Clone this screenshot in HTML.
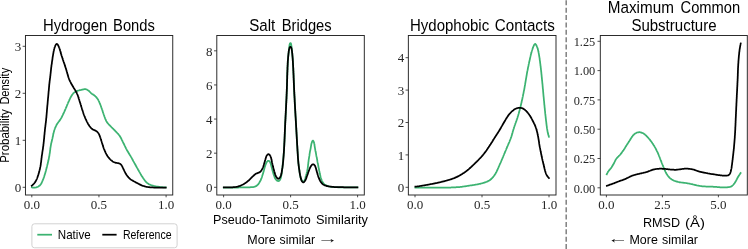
<!DOCTYPE html>
<html><head><meta charset="utf-8"><title>Interaction similarity distributions</title>
<style>
html,body{margin:0;padding:0;background:#fff;}
svg{display:block;}
text{fill:#000;}
.tk{font-family:"Liberation Serif","DejaVu Serif",serif;font-size:13.0px;fill:#262626;}
.ti{font-family:"Liberation Sans","DejaVu Sans",sans-serif;font-size:16.8px;}
.lb{font-family:"Liberation Sans","DejaVu Sans",sans-serif;font-size:13.3px;}
.g{fill:none;stroke:#3cb371;stroke-width:1.75;stroke-linejoin:round;stroke-linecap:square;}
.k{fill:none;stroke:#000000;stroke-width:1.75;stroke-linejoin:round;stroke-linecap:square;}
</style></head>
<body>
<svg width="748" height="249" viewBox="0 0 748 249">
<rect x="0" y="0" width="748" height="249" fill="#ffffff"/>
<line x1="31.80" x2="31.80" y1="195.0" y2="197.3" stroke="#222222" stroke-width="0.8"/>
<text x="31.80" y="208.9" text-anchor="middle" class="tk">0.0</text>
<line x1="98.95" x2="98.95" y1="195.0" y2="197.3" stroke="#222222" stroke-width="0.8"/>
<text x="98.95" y="208.9" text-anchor="middle" class="tk">0.5</text>
<line x1="166.10" x2="166.10" y1="195.0" y2="197.3" stroke="#222222" stroke-width="0.8"/>
<text x="166.10" y="208.9" text-anchor="middle" class="tk">1.0</text>
<line x1="22.65" x2="25.45" y1="187.30" y2="187.30" stroke="#222222" stroke-width="0.8"/>
<text x="21.25" y="192.00" text-anchor="end" class="tk">0</text>
<line x1="22.65" x2="25.45" y1="140.30" y2="140.30" stroke="#222222" stroke-width="0.8"/>
<text x="21.25" y="145.00" text-anchor="end" class="tk">1</text>
<line x1="22.65" x2="25.45" y1="93.30" y2="93.30" stroke="#222222" stroke-width="0.8"/>
<text x="21.25" y="98.00" text-anchor="end" class="tk">2</text>
<line x1="22.65" x2="25.45" y1="46.30" y2="46.30" stroke="#222222" stroke-width="0.8"/>
<text x="21.25" y="51.00" text-anchor="end" class="tk">3</text>
<line x1="223.60" x2="223.60" y1="195.0" y2="197.3" stroke="#222222" stroke-width="0.8"/>
<text x="223.60" y="208.9" text-anchor="middle" class="tk">0.0</text>
<line x1="290.60" x2="290.60" y1="195.0" y2="197.3" stroke="#222222" stroke-width="0.8"/>
<text x="290.60" y="208.9" text-anchor="middle" class="tk">0.5</text>
<line x1="357.60" x2="357.60" y1="195.0" y2="197.3" stroke="#222222" stroke-width="0.8"/>
<text x="357.60" y="208.9" text-anchor="middle" class="tk">1.0</text>
<line x1="214.0" x2="216.8" y1="187.30" y2="187.30" stroke="#222222" stroke-width="0.8"/>
<text x="212.60" y="192.00" text-anchor="end" class="tk">0</text>
<line x1="214.0" x2="216.8" y1="153.18" y2="153.18" stroke="#222222" stroke-width="0.8"/>
<text x="212.60" y="157.88" text-anchor="end" class="tk">2</text>
<line x1="214.0" x2="216.8" y1="119.06" y2="119.06" stroke="#222222" stroke-width="0.8"/>
<text x="212.60" y="123.76" text-anchor="end" class="tk">4</text>
<line x1="214.0" x2="216.8" y1="84.94" y2="84.94" stroke="#222222" stroke-width="0.8"/>
<text x="212.60" y="89.64" text-anchor="end" class="tk">6</text>
<line x1="214.0" x2="216.8" y1="50.82" y2="50.82" stroke="#222222" stroke-width="0.8"/>
<text x="212.60" y="55.52" text-anchor="end" class="tk">8</text>
<line x1="415.00" x2="415.00" y1="195.0" y2="197.3" stroke="#222222" stroke-width="0.8"/>
<text x="415.00" y="208.9" text-anchor="middle" class="tk">0.0</text>
<line x1="482.00" x2="482.00" y1="195.0" y2="197.3" stroke="#222222" stroke-width="0.8"/>
<text x="482.00" y="208.9" text-anchor="middle" class="tk">0.5</text>
<line x1="549.00" x2="549.00" y1="195.0" y2="197.3" stroke="#222222" stroke-width="0.8"/>
<text x="549.00" y="208.9" text-anchor="middle" class="tk">1.0</text>
<line x1="405.55" x2="408.35" y1="187.30" y2="187.30" stroke="#222222" stroke-width="0.8"/>
<text x="404.15" y="192.00" text-anchor="end" class="tk">0</text>
<line x1="405.55" x2="408.35" y1="154.90" y2="154.90" stroke="#222222" stroke-width="0.8"/>
<text x="404.15" y="159.60" text-anchor="end" class="tk">1</text>
<line x1="405.55" x2="408.35" y1="122.50" y2="122.50" stroke="#222222" stroke-width="0.8"/>
<text x="404.15" y="127.20" text-anchor="end" class="tk">2</text>
<line x1="405.55" x2="408.35" y1="90.10" y2="90.10" stroke="#222222" stroke-width="0.8"/>
<text x="404.15" y="94.80" text-anchor="end" class="tk">3</text>
<line x1="405.55" x2="408.35" y1="57.70" y2="57.70" stroke="#222222" stroke-width="0.8"/>
<text x="404.15" y="62.40" text-anchor="end" class="tk">4</text>
<line x1="606.40" x2="606.40" y1="195.0" y2="197.3" stroke="#222222" stroke-width="0.8"/>
<text x="606.40" y="208.9" text-anchor="middle" class="tk">0.0</text>
<line x1="662.40" x2="662.40" y1="195.0" y2="197.3" stroke="#222222" stroke-width="0.8"/>
<text x="662.40" y="208.9" text-anchor="middle" class="tk">2.5</text>
<line x1="718.40" x2="718.40" y1="195.0" y2="197.3" stroke="#222222" stroke-width="0.8"/>
<text x="718.40" y="208.9" text-anchor="middle" class="tk">5.0</text>
<line x1="597.5" x2="600.3" y1="187.80" y2="187.80" stroke="#222222" stroke-width="0.8"/>
<text x="595.30" y="192.50" text-anchor="end" class="tk" textLength="21.6" lengthAdjust="spacingAndGlyphs">0.00</text>
<line x1="597.5" x2="600.3" y1="158.50" y2="158.50" stroke="#222222" stroke-width="0.8"/>
<text x="595.30" y="163.20" text-anchor="end" class="tk" textLength="21.6" lengthAdjust="spacingAndGlyphs">0.25</text>
<line x1="597.5" x2="600.3" y1="129.20" y2="129.20" stroke="#222222" stroke-width="0.8"/>
<text x="595.30" y="133.90" text-anchor="end" class="tk" textLength="21.6" lengthAdjust="spacingAndGlyphs">0.50</text>
<line x1="597.5" x2="600.3" y1="99.90" y2="99.90" stroke="#222222" stroke-width="0.8"/>
<text x="595.30" y="104.60" text-anchor="end" class="tk" textLength="21.6" lengthAdjust="spacingAndGlyphs">0.75</text>
<line x1="597.5" x2="600.3" y1="70.60" y2="70.60" stroke="#222222" stroke-width="0.8"/>
<text x="595.30" y="75.30" text-anchor="end" class="tk" textLength="21.6" lengthAdjust="spacingAndGlyphs">1.00</text>
<line x1="597.5" x2="600.3" y1="41.30" y2="41.30" stroke="#222222" stroke-width="0.8"/>
<text x="595.30" y="46.00" text-anchor="end" class="tk" textLength="21.6" lengthAdjust="spacingAndGlyphs">1.25</text>
<path d="M31.9,187.4 L32.3,187.5 L32.7,187.5 L33.3,187.6 L33.9,187.6 L34.5,187.6 L35.1,187.6 L35.7,187.5 L36.3,187.4 L36.8,187.2 L37.4,187.0 L37.9,186.8 L38.4,186.5 L38.9,186.1 L39.4,185.8 L39.9,185.3 L40.3,184.9 L40.6,184.5 L41.0,184.0 L41.3,183.5 L41.6,183.0 L41.8,182.4 L42.1,181.9 L42.3,181.3 L42.6,180.7 L42.8,180.2 L43.0,179.6 L43.3,179.0 L43.5,178.5 L43.7,177.9 L43.9,177.4 L44.1,176.8 L44.3,176.2 L44.4,175.7 L44.6,175.1 L44.8,174.5 L45.0,173.9 L45.2,173.4 L45.3,172.8 L45.5,172.2 L45.7,171.6 L45.8,171.0 L46.0,170.5 L46.1,169.9 L46.3,169.3 L46.4,168.7 L46.6,168.1 L46.7,167.6 L46.9,167.0 L47.0,166.4 L47.1,165.8 L47.3,165.2 L47.4,164.6 L47.6,164.1 L47.7,163.5 L47.9,162.9 L48.0,162.3 L48.1,161.7 L48.3,161.1 L48.4,160.6 L48.5,160.0 L48.7,159.4 L48.8,158.8 L48.9,158.2 L49.0,157.6 L49.1,157.0 L49.2,156.4 L49.4,155.9 L49.4,155.3 L49.5,154.7 L49.6,154.1 L49.7,153.5 L49.8,152.9 L49.9,152.3 L50.0,151.7 L50.0,151.1 L50.1,150.5 L50.2,149.9 L50.3,149.3 L50.3,148.7 L50.4,148.1 L50.5,147.5 L50.6,146.9 L50.7,146.3 L50.8,145.8 L50.9,145.2 L51.0,144.6 L51.1,144.0 L51.2,143.4 L51.4,142.8 L51.5,142.2 L51.7,141.6 L51.8,141.1 L51.9,140.5 L52.1,139.9 L52.2,139.3 L52.4,138.7 L52.5,138.1 L52.6,137.6 L52.7,137.0 L52.9,136.4 L53.0,135.8 L53.1,135.2 L53.2,134.6 L53.3,134.0 L53.5,133.4 L53.6,132.8 L53.8,132.3 L53.9,131.7 L54.1,131.1 L54.2,130.5 L54.4,130.0 L54.6,129.4 L54.8,128.8 L55.0,128.3 L55.2,127.7 L55.5,127.2 L55.7,126.6 L56.0,126.1 L56.2,125.5 L56.5,125.0 L56.8,124.5 L57.1,124.0 L57.4,123.5 L57.8,123.0 L58.1,122.5 L58.5,122.0 L58.9,121.5 L59.2,121.1 L59.6,120.6 L59.9,120.1 L60.3,119.6 L60.6,119.1 L60.9,118.6 L61.2,118.1 L61.5,117.5 L61.8,117.0 L62.1,116.5 L62.3,115.9 L62.6,115.4 L62.9,114.9 L63.1,114.3 L63.4,113.8 L63.6,113.2 L63.9,112.7 L64.1,112.1 L64.4,111.6 L64.6,111.0 L64.9,110.5 L65.1,109.9 L65.3,109.4 L65.6,108.8 L65.8,108.3 L66.0,107.7 L66.3,107.2 L66.5,106.6 L66.7,106.1 L66.9,105.5 L67.2,105.0 L67.4,104.4 L67.7,103.8 L67.9,103.3 L68.1,102.7 L68.4,102.2 L68.6,101.7 L68.9,101.1 L69.1,100.6 L69.4,100.0 L69.6,99.5 L69.9,98.9 L70.1,98.4 L70.4,97.8 L70.7,97.3 L71.0,96.8 L71.3,96.3 L71.6,95.7 L71.9,95.2 L72.2,94.7 L72.6,94.2 L73.0,93.7 L73.3,93.3 L73.8,92.9 L74.2,92.5 L74.7,92.2 L75.2,91.9 L75.7,91.6 L76.2,91.4 L76.8,91.1 L77.4,90.9 L78.0,90.7 L78.5,90.5 L79.1,90.4 L79.7,90.2 L80.3,90.1 L80.9,90.0 L81.5,89.8 L82.0,89.7 L82.6,89.6 L83.2,89.4 L83.8,89.3 L84.4,89.2 L85.0,89.2 L85.5,89.2 L86.1,89.3 L86.7,89.5 L87.2,89.8 L87.8,90.1 L88.2,90.4 L88.7,90.7 L89.1,91.1 L89.6,91.6 L90.0,92.0 L90.4,92.5 L90.8,92.9 L91.3,93.3 L91.8,93.7 L92.2,94.0 L92.8,94.3 L93.3,94.7 L93.8,95.0 L94.2,95.3 L94.7,95.7 L95.2,96.1 L95.6,96.5 L96.0,96.9 L96.4,97.4 L96.8,97.9 L97.2,98.3 L97.5,98.8 L97.8,99.3 L98.2,99.8 L98.4,100.3 L98.7,100.9 L99.0,101.4 L99.2,102.0 L99.5,102.5 L99.7,103.1 L99.9,103.6 L100.1,104.2 L100.4,104.8 L100.6,105.3 L100.8,105.9 L101.0,106.4 L101.2,107.0 L101.4,107.6 L101.6,108.1 L101.8,108.7 L102.0,109.3 L102.2,109.8 L102.4,110.4 L102.6,111.0 L102.7,111.6 L102.9,112.1 L103.1,112.7 L103.3,113.3 L103.5,113.8 L103.7,114.4 L103.9,115.0 L104.1,115.5 L104.3,116.1 L104.5,116.7 L104.7,117.2 L104.9,117.8 L105.1,118.4 L105.3,118.9 L105.6,119.5 L105.8,120.0 L106.1,120.6 L106.3,121.1 L106.6,121.6 L106.9,122.1 L107.3,122.6 L107.6,123.1 L108.0,123.5 L108.4,124.0 L108.8,124.4 L109.2,124.9 L109.7,125.3 L110.1,125.7 L110.5,126.2 L110.9,126.6 L111.3,127.0 L111.8,127.5 L112.2,127.9 L112.6,128.3 L113.0,128.7 L113.5,129.2 L113.9,129.6 L114.3,130.0 L114.8,130.4 L115.2,130.9 L115.6,131.3 L116.0,131.7 L116.4,132.2 L116.8,132.6 L117.2,133.0 L117.7,133.5 L118.1,133.9 L118.5,134.4 L118.8,134.8 L119.2,135.3 L119.6,135.8 L119.9,136.3 L120.2,136.8 L120.5,137.3 L120.8,137.8 L121.1,138.3 L121.4,138.9 L121.6,139.4 L121.9,140.0 L122.2,140.5 L122.4,141.0 L122.7,141.6 L123.0,142.1 L123.2,142.7 L123.5,143.2 L123.8,143.7 L124.0,144.3 L124.3,144.8 L124.5,145.4 L124.8,145.9 L125.1,146.4 L125.3,147.0 L125.6,147.5 L125.9,148.1 L126.1,148.6 L126.4,149.1 L126.7,149.7 L127.0,150.2 L127.3,150.7 L127.6,151.2 L127.9,151.7 L128.2,152.3 L128.5,152.8 L128.8,153.3 L129.1,153.8 L129.4,154.3 L129.7,154.8 L130.0,155.3 L130.4,155.8 L130.7,156.4 L131.0,156.9 L131.3,157.4 L131.6,157.9 L131.9,158.4 L132.2,159.0 L132.5,159.5 L132.7,160.0 L133.0,160.5 L133.3,161.1 L133.6,161.6 L133.9,162.1 L134.2,162.6 L134.5,163.2 L134.8,163.7 L135.1,164.2 L135.4,164.7 L135.6,165.3 L135.9,165.8 L136.2,166.3 L136.5,166.8 L136.8,167.4 L137.1,167.9 L137.4,168.4 L137.7,168.9 L138.0,169.5 L138.3,170.0 L138.6,170.5 L138.9,171.0 L139.2,171.6 L139.5,172.1 L139.8,172.6 L140.1,173.1 L140.4,173.6 L140.7,174.2 L141.0,174.7 L141.3,175.2 L141.6,175.7 L141.9,176.2 L142.3,176.7 L142.6,177.2 L142.9,177.7 L143.3,178.2 L143.6,178.7 L144.0,179.2 L144.3,179.7 L144.7,180.2 L145.0,180.7 L145.4,181.2 L145.8,181.6 L146.2,182.1 L146.6,182.5 L147.1,182.9 L147.5,183.2 L148.0,183.5 L148.5,183.9 L149.0,184.2 L149.5,184.5 L150.1,184.7 L150.7,185.0 L151.2,185.2 L151.8,185.4 L152.4,185.6 L152.9,185.7 L153.5,185.9 L154.1,186.0 L154.7,186.1 L155.3,186.3 L155.9,186.4 L156.5,186.5 L157.1,186.6 L157.6,186.7 L158.2,186.7 L158.8,186.8 L159.4,186.9 L160.0,187.0 L160.6,187.1 L161.2,187.1 L161.8,187.2 L162.4,187.2 L163.0,187.3 L163.6,187.3 L164.2,187.3 L164.8,187.4 L165.3,187.4 L165.7,187.4" class="g"/>
<path d="M31.8,185.7 L32.1,185.4 L32.5,185.1 L32.9,184.7 L33.3,184.3 L33.7,183.9 L34.1,183.5 L34.5,183.0 L34.9,182.5 L35.2,182.0 L35.5,181.5 L35.8,181.0 L36.1,180.4 L36.4,179.9 L36.6,179.4 L36.9,178.8 L37.1,178.3 L37.3,177.7 L37.5,177.2 L37.7,176.6 L37.9,176.0 L38.1,175.4 L38.3,174.9 L38.5,174.3 L38.6,173.7 L38.8,173.1 L39.0,172.6 L39.1,172.0 L39.3,171.4 L39.4,170.8 L39.6,170.2 L39.7,169.7 L39.9,169.1 L40.0,168.5 L40.1,167.9 L40.2,167.3 L40.4,166.7 L40.5,166.1 L40.6,165.5 L40.7,164.9 L40.8,164.4 L40.8,163.8 L40.9,163.2 L41.0,162.6 L41.1,162.0 L41.2,161.4 L41.2,160.8 L41.3,160.2 L41.4,159.6 L41.4,159.0 L41.5,158.4 L41.6,157.8 L41.7,157.2 L41.7,156.6 L41.8,156.0 L41.9,155.4 L42.0,154.8 L42.1,154.2 L42.2,153.6 L42.3,153.0 L42.3,152.5 L42.4,151.9 L42.5,151.3 L42.6,150.7 L42.7,150.1 L42.8,149.5 L42.9,148.9 L43.0,148.3 L43.0,147.7 L43.1,147.1 L43.2,146.5 L43.3,145.9 L43.4,145.3 L43.4,144.7 L43.5,144.1 L43.6,143.5 L43.6,142.9 L43.7,142.3 L43.8,141.8 L43.8,141.2 L43.9,140.6 L43.9,140.0 L44.0,139.4 L44.1,138.8 L44.1,138.2 L44.2,137.6 L44.2,137.0 L44.3,136.4 L44.3,135.8 L44.4,135.2 L44.5,134.6 L44.5,134.0 L44.6,133.4 L44.6,132.8 L44.7,132.2 L44.8,131.6 L44.8,131.0 L44.9,130.4 L44.9,129.8 L45.0,129.2 L45.1,128.6 L45.1,128.0 L45.2,127.4 L45.3,126.8 L45.4,126.2 L45.4,125.6 L45.5,125.0 L45.6,124.4 L45.6,123.8 L45.7,123.3 L45.8,122.7 L45.9,122.1 L45.9,121.5 L46.0,120.9 L46.1,120.3 L46.1,119.7 L46.2,119.1 L46.2,118.5 L46.3,117.9 L46.4,117.3 L46.4,116.7 L46.5,116.1 L46.5,115.5 L46.6,114.9 L46.6,114.3 L46.7,113.7 L46.7,113.1 L46.8,112.5 L46.8,111.9 L46.9,111.3 L46.9,110.7 L47.0,110.1 L47.0,109.5 L47.1,108.9 L47.1,108.3 L47.2,107.7 L47.2,107.1 L47.3,106.5 L47.3,105.9 L47.4,105.3 L47.5,104.7 L47.5,104.1 L47.6,103.5 L47.6,102.9 L47.7,102.3 L47.7,101.7 L47.8,101.2 L47.8,100.6 L47.9,100.0 L47.9,99.4 L48.0,98.8 L48.0,98.2 L48.1,97.6 L48.2,97.0 L48.2,96.4 L48.3,95.8 L48.3,95.2 L48.4,94.6 L48.4,94.0 L48.5,93.4 L48.5,92.8 L48.6,92.2 L48.6,91.6 L48.7,91.0 L48.8,90.4 L48.8,89.8 L48.9,89.2 L48.9,88.6 L49.0,88.0 L49.0,87.4 L49.1,86.8 L49.1,86.2 L49.2,85.6 L49.2,85.0 L49.3,84.4 L49.4,83.8 L49.4,83.2 L49.5,82.6 L49.6,82.0 L49.6,81.4 L49.7,80.8 L49.8,80.2 L49.9,79.7 L49.9,79.1 L50.0,78.5 L50.1,77.9 L50.2,77.3 L50.2,76.7 L50.3,76.1 L50.4,75.5 L50.4,74.9 L50.5,74.3 L50.6,73.7 L50.6,73.1 L50.7,72.5 L50.8,71.9 L50.8,71.3 L50.9,70.7 L51.0,70.1 L51.0,69.5 L51.1,68.9 L51.1,68.3 L51.2,67.7 L51.3,67.1 L51.4,66.5 L51.4,65.9 L51.5,65.3 L51.6,64.8 L51.7,64.2 L51.8,63.6 L51.9,63.0 L51.9,62.4 L52.0,61.8 L52.1,61.2 L52.2,60.6 L52.3,60.0 L52.4,59.4 L52.5,58.8 L52.5,58.2 L52.6,57.6 L52.7,57.0 L52.8,56.4 L52.9,55.8 L53.0,55.3 L53.1,54.7 L53.2,54.1 L53.3,53.5 L53.4,52.9 L53.5,52.3 L53.6,51.7 L53.7,51.1 L53.9,50.5 L54.0,49.9 L54.1,49.3 L54.3,48.7 L54.4,48.2 L54.6,47.6 L54.8,47.0 L55.1,46.3 L55.3,45.7 L55.6,45.1 L55.9,44.6 L56.3,44.2 L56.6,44.0 L56.9,43.9 L57.2,44.1 L57.6,44.4 L57.9,44.9 L58.2,45.5 L58.5,46.1 L58.8,46.7 L59.0,47.3 L59.3,47.9 L59.5,48.5 L59.7,49.0 L59.8,49.6 L60.0,50.2 L60.2,50.8 L60.4,51.3 L60.5,51.9 L60.7,52.5 L60.8,53.1 L61.0,53.7 L61.2,54.3 L61.3,54.8 L61.5,55.4 L61.7,56.0 L61.9,56.5 L62.1,57.1 L62.3,57.7 L62.5,58.3 L62.6,58.8 L62.8,59.4 L63.0,60.0 L63.2,60.5 L63.4,61.1 L63.6,61.7 L63.8,62.2 L64.0,62.8 L64.2,63.4 L64.4,63.9 L64.6,64.5 L64.8,65.1 L64.9,65.6 L65.1,66.2 L65.3,66.8 L65.5,67.4 L65.7,67.9 L65.9,68.5 L66.1,69.1 L66.2,69.6 L66.4,70.2 L66.6,70.8 L66.7,71.4 L66.9,72.0 L67.1,72.5 L67.2,73.1 L67.4,73.7 L67.6,74.3 L67.7,74.9 L67.9,75.4 L68.1,76.0 L68.2,76.6 L68.4,77.2 L68.6,77.7 L68.8,78.3 L69.0,78.8 L69.2,79.4 L69.4,79.9 L69.7,80.5 L69.9,81.0 L70.2,81.6 L70.5,82.1 L70.8,82.6 L71.0,83.2 L71.3,83.7 L71.6,84.2 L71.9,84.8 L72.2,85.3 L72.5,85.8 L72.8,86.3 L73.1,86.8 L73.4,87.3 L73.7,87.9 L74.0,88.4 L74.4,88.9 L74.7,89.4 L75.0,89.9 L75.3,90.4 L75.6,90.9 L75.9,91.5 L76.2,92.0 L76.5,92.5 L76.8,93.0 L77.0,93.6 L77.2,94.1 L77.5,94.7 L77.7,95.2 L77.9,95.8 L78.1,96.4 L78.3,96.9 L78.5,97.5 L78.6,98.1 L78.8,98.7 L79.0,99.2 L79.2,99.8 L79.4,100.4 L79.5,101.0 L79.7,101.5 L79.9,102.1 L80.1,102.7 L80.3,103.3 L80.4,103.8 L80.6,104.4 L80.8,105.0 L81.0,105.5 L81.1,106.1 L81.3,106.7 L81.5,107.3 L81.7,107.8 L81.9,108.4 L82.0,109.0 L82.2,109.6 L82.4,110.1 L82.6,110.7 L82.8,111.3 L83.0,111.8 L83.2,112.4 L83.3,113.0 L83.5,113.6 L83.7,114.1 L83.9,114.7 L84.1,115.2 L84.3,115.8 L84.6,116.4 L84.8,116.9 L85.0,117.5 L85.2,118.0 L85.5,118.6 L85.7,119.1 L86.0,119.7 L86.2,120.2 L86.5,120.8 L86.7,121.3 L87.0,121.9 L87.3,122.4 L87.6,122.9 L87.8,123.5 L88.1,124.0 L88.5,124.5 L88.8,125.0 L89.1,125.5 L89.4,126.0 L89.8,126.5 L90.2,127.0 L90.6,127.5 L91.0,127.9 L91.4,128.4 L91.8,128.8 L92.3,129.1 L92.8,129.4 L93.3,129.7 L93.8,129.9 L94.4,130.1 L95.0,130.4 L95.5,130.6 L96.0,130.9 L96.5,131.2 L97.0,131.6 L97.4,132.0 L97.8,132.5 L98.2,132.9 L98.5,133.4 L98.8,133.9 L99.1,134.4 L99.3,135.0 L99.6,135.5 L99.8,136.1 L100.0,136.7 L100.2,137.3 L100.4,137.8 L100.6,138.4 L100.8,139.0 L101.0,139.5 L101.1,140.1 L101.3,140.7 L101.5,141.3 L101.7,141.8 L101.9,142.4 L102.0,143.0 L102.2,143.5 L102.4,144.1 L102.6,144.7 L102.8,145.3 L102.9,145.8 L103.1,146.4 L103.3,147.0 L103.5,147.6 L103.7,148.1 L103.9,148.7 L104.1,149.2 L104.3,149.8 L104.6,150.3 L104.8,150.9 L105.1,151.5 L105.3,152.0 L105.6,152.6 L105.8,153.1 L106.1,153.6 L106.4,154.2 L106.7,154.7 L107.0,155.2 L107.3,155.7 L107.6,156.2 L108.0,156.7 L108.3,157.2 L108.7,157.7 L109.1,158.1 L109.5,158.6 L109.9,159.0 L110.3,159.5 L110.7,159.9 L111.2,160.3 L111.7,160.6 L112.1,161.0 L112.6,161.4 L113.1,161.7 L113.7,162.0 L114.2,162.3 L114.7,162.5 L115.3,162.6 L115.9,162.8 L116.5,162.9 L117.1,163.0 L117.7,163.1 L118.3,163.2 L118.8,163.3 L119.4,163.5 L119.9,163.8 L120.4,164.1 L120.9,164.5 L121.3,164.9 L121.6,165.4 L121.9,165.9 L122.2,166.4 L122.5,167.0 L122.8,167.5 L123.0,168.1 L123.3,168.6 L123.5,169.2 L123.8,169.7 L124.1,170.3 L124.3,170.8 L124.6,171.4 L124.8,171.9 L125.1,172.4 L125.4,173.0 L125.7,173.5 L126.0,174.0 L126.3,174.5 L126.6,175.0 L127.0,175.5 L127.3,176.0 L127.7,176.4 L128.1,176.9 L128.5,177.4 L128.9,177.8 L129.3,178.2 L129.7,178.6 L130.2,179.0 L130.7,179.4 L131.1,179.7 L131.6,180.0 L132.1,180.3 L132.7,180.6 L133.2,180.9 L133.7,181.2 L134.3,181.5 L134.8,181.8 L135.3,182.1 L135.9,182.4 L136.4,182.7 L136.9,183.0 L137.5,183.2 L138.0,183.5 L138.5,183.8 L139.1,184.1 L139.6,184.4 L140.1,184.6 L140.7,184.9 L141.2,185.1 L141.8,185.4 L142.3,185.6 L142.9,185.8 L143.5,186.0 L144.0,186.1 L144.6,186.3 L145.2,186.5 L145.8,186.7 L146.4,186.8 L147.0,186.9 L147.5,187.0 L148.1,187.1 L148.7,187.2 L149.3,187.2 L149.9,187.3 L150.5,187.3 L151.1,187.4 L151.7,187.4 L152.3,187.4 L152.9,187.4 L153.5,187.5 L154.1,187.5 L154.7,187.5 L155.3,187.5 L155.9,187.5 L156.5,187.5 L157.1,187.5 L157.7,187.5 L158.3,187.5 L158.9,187.5 L159.5,187.5 L160.1,187.5 L160.7,187.5 L161.3,187.5 L161.9,187.5 L162.5,187.5 L163.1,187.5 L163.7,187.5 L164.3,187.5 L164.9,187.5 L165.3,187.5 L165.7,187.5" class="k"/>
<path d="M223.8,187.5 L224.2,187.5 L224.8,187.5 L225.4,187.5 L226.0,187.5 L226.6,187.5 L227.2,187.5 L227.8,187.5 L228.4,187.5 L229.0,187.5 L229.6,187.5 L230.2,187.5 L230.8,187.5 L231.4,187.5 L232.0,187.5 L232.6,187.5 L233.2,187.5 L233.8,187.5 L234.4,187.5 L235.0,187.5 L235.6,187.5 L236.2,187.5 L236.8,187.5 L237.4,187.5 L238.0,187.5 L238.6,187.5 L239.2,187.4 L239.8,187.4 L240.4,187.4 L241.0,187.4 L241.6,187.4 L242.2,187.4 L242.8,187.4 L243.4,187.4 L244.0,187.4 L244.6,187.4 L245.2,187.4 L245.8,187.4 L246.4,187.4 L247.0,187.4 L247.6,187.3 L248.2,187.3 L248.8,187.3 L249.4,187.3 L250.0,187.3 L250.7,187.2 L251.2,187.2 L251.8,187.1 L252.4,187.1 L253.0,187.0 L253.6,187.0 L254.2,186.8 L254.8,186.7 L255.3,186.4 L255.9,186.2 L256.4,185.9 L256.9,185.6 L257.3,185.2 L257.7,184.8 L258.1,184.4 L258.5,183.9 L258.9,183.4 L259.2,182.9 L259.5,182.3 L259.8,181.8 L260.1,181.2 L260.4,180.7 L260.7,180.2 L260.9,179.6 L261.1,179.1 L261.4,178.5 L261.6,178.0 L261.8,177.4 L262.0,176.8 L262.2,176.2 L262.3,175.7 L262.5,175.1 L262.7,174.5 L262.9,173.9 L263.1,173.4 L263.2,172.8 L263.4,172.2 L263.6,171.6 L263.7,171.1 L263.9,170.5 L264.0,169.9 L264.2,169.3 L264.3,168.7 L264.5,168.1 L264.6,167.6 L264.8,167.0 L265.0,166.4 L265.2,165.8 L265.4,165.3 L265.6,164.7 L265.8,164.1 L266.0,163.6 L266.3,163.0 L266.6,162.4 L266.9,161.9 L267.2,161.5 L267.6,161.1 L268.1,160.8 L268.6,160.8 L269.1,161.0 L269.6,161.4 L269.9,161.9 L270.2,162.4 L270.4,162.9 L270.6,163.5 L270.8,164.0 L271.0,164.6 L271.1,165.2 L271.3,165.9 L271.5,166.5 L271.6,167.1 L271.8,167.6 L271.9,168.2 L272.1,168.8 L272.2,169.4 L272.4,170.0 L272.5,170.6 L272.7,171.1 L272.9,171.7 L273.0,172.3 L273.2,172.9 L273.3,173.4 L273.5,174.0 L273.7,174.6 L273.9,175.2 L274.1,175.8 L274.3,176.3 L274.5,176.9 L274.7,177.5 L274.9,178.0 L275.2,178.5 L275.5,179.0 L275.9,179.5 L276.3,180.0 L276.7,180.4 L277.2,180.7 L277.8,180.9 L278.3,181.1 L278.8,181.0 L279.3,180.7 L279.7,180.2 L280.1,179.7 L280.3,179.2 L280.5,178.7 L280.7,178.1 L280.9,177.6 L281.0,177.0 L281.1,176.4 L281.3,175.8 L281.4,175.2 L281.5,174.6 L281.6,174.0 L281.7,173.3 L281.8,172.7 L281.8,172.1 L281.9,171.5 L282.0,170.9 L282.1,170.3 L282.2,169.7 L282.2,169.1 L282.3,168.5 L282.4,167.9 L282.4,167.3 L282.5,166.7 L282.6,166.1 L282.6,165.6 L282.7,165.0 L282.7,164.4 L282.8,163.8 L282.8,163.2 L282.9,162.6 L283.0,162.0 L283.0,161.4 L283.1,160.8 L283.1,160.2 L283.2,159.6 L283.2,159.0 L283.3,158.4 L283.3,157.8 L283.4,157.2 L283.4,156.6 L283.5,156.0 L283.5,155.4 L283.6,154.8 L283.7,154.2 L283.7,153.6 L283.8,153.0 L283.8,152.4 L283.9,151.8 L283.9,151.2 L284.0,150.6 L284.0,150.0 L284.0,149.4 L284.1,148.8 L284.1,148.2 L284.1,147.6 L284.2,147.0 L284.2,146.4 L284.2,145.8 L284.3,145.2 L284.3,144.6 L284.3,144.0 L284.4,143.4 L284.4,142.8 L284.4,142.2 L284.5,141.6 L284.5,141.0 L284.5,140.4 L284.5,139.8 L284.6,139.2 L284.6,138.6 L284.6,138.0 L284.6,137.4 L284.7,136.8 L284.7,136.2 L284.7,135.6 L284.7,135.0 L284.8,134.4 L284.8,133.8 L284.8,133.2 L284.8,132.6 L284.9,132.0 L284.9,131.4 L284.9,130.8 L284.9,130.2 L285.0,129.6 L285.0,129.0 L285.0,128.4 L285.0,127.8 L285.1,127.2 L285.1,126.6 L285.1,126.0 L285.1,125.4 L285.2,124.8 L285.2,124.2 L285.2,123.6 L285.2,123.0 L285.3,122.4 L285.3,121.8 L285.3,121.2 L285.4,120.6 L285.4,120.0 L285.4,119.4 L285.5,118.8 L285.5,118.2 L285.5,117.6 L285.5,117.0 L285.6,116.4 L285.6,115.8 L285.6,115.2 L285.7,114.6 L285.7,114.0 L285.7,113.4 L285.8,112.8 L285.8,112.2 L285.8,111.6 L285.8,111.0 L285.9,110.4 L285.9,109.8 L285.9,109.2 L286.0,108.6 L286.0,108.0 L286.0,107.5 L286.1,106.9 L286.1,106.3 L286.1,105.7 L286.1,105.1 L286.2,104.5 L286.2,103.9 L286.2,103.3 L286.3,102.7 L286.3,102.1 L286.3,101.5 L286.4,100.9 L286.4,100.3 L286.4,99.7 L286.4,99.1 L286.5,98.5 L286.5,97.9 L286.5,97.3 L286.5,96.7 L286.6,96.1 L286.6,95.5 L286.6,94.9 L286.6,94.3 L286.7,93.7 L286.7,93.1 L286.7,92.5 L286.7,91.9 L286.8,91.3 L286.8,90.7 L286.8,90.1 L286.8,89.5 L286.9,88.9 L286.9,88.3 L286.9,87.7 L286.9,87.1 L286.9,86.5 L287.0,85.9 L287.0,85.3 L287.0,84.7 L287.0,84.1 L287.0,83.5 L287.0,82.9 L287.1,82.3 L287.1,81.7 L287.1,81.1 L287.1,80.5 L287.1,79.9 L287.1,79.3 L287.2,78.7 L287.2,78.1 L287.2,77.5 L287.2,76.9 L287.2,76.3 L287.2,75.7 L287.3,75.1 L287.3,74.5 L287.3,73.9 L287.3,73.3 L287.3,72.7 L287.4,72.1 L287.4,71.5 L287.4,70.9 L287.4,70.3 L287.5,69.7 L287.5,69.1 L287.5,68.5 L287.5,67.9 L287.5,67.3 L287.6,66.7 L287.6,66.1 L287.6,65.5 L287.7,64.9 L287.7,64.3 L287.7,63.7 L287.7,63.1 L287.8,62.5 L287.8,61.9 L287.8,61.3 L287.9,60.7 L287.9,60.1 L288.0,59.5 L288.0,58.9 L288.1,58.3 L288.1,57.7 L288.2,57.1 L288.2,56.5 L288.3,55.9 L288.4,55.3 L288.4,54.7 L288.5,54.1 L288.5,53.5 L288.6,52.9 L288.7,52.3 L288.7,51.7 L288.8,51.1 L288.9,50.5 L288.9,49.9 L289.0,49.3 L289.1,48.7 L289.1,48.1 L289.2,47.6 L289.3,47.0 L289.3,46.4 L289.4,45.8 L289.5,45.2 L289.6,44.6 L289.8,43.9 L290.0,43.4 L290.3,43.0 L290.6,43.0 L290.8,43.4 L291.1,44.0 L291.2,44.6 L291.3,45.2 L291.4,45.8 L291.5,46.4 L291.6,47.0 L291.6,47.6 L291.7,48.2 L291.8,48.8 L291.8,49.4 L291.9,50.0 L292.0,50.6 L292.0,51.2 L292.1,51.8 L292.1,52.4 L292.2,53.0 L292.3,53.6 L292.3,54.2 L292.4,54.8 L292.4,55.4 L292.5,56.0 L292.5,56.6 L292.6,57.2 L292.6,57.8 L292.7,58.4 L292.7,59.0 L292.7,59.6 L292.8,60.2 L292.8,60.8 L292.9,61.4 L292.9,62.0 L292.9,62.6 L293.0,63.2 L293.0,63.8 L293.0,64.4 L293.1,65.0 L293.1,65.6 L293.1,66.2 L293.2,66.8 L293.2,67.4 L293.2,68.0 L293.3,68.6 L293.3,69.2 L293.3,69.8 L293.3,70.4 L293.4,71.0 L293.4,71.6 L293.4,72.2 L293.4,72.8 L293.5,73.4 L293.5,74.0 L293.5,74.6 L293.5,75.2 L293.6,75.8 L293.6,76.4 L293.6,77.0 L293.6,77.6 L293.7,78.2 L293.7,78.8 L293.7,79.4 L293.7,80.0 L293.8,80.6 L293.8,81.2 L293.8,81.8 L293.8,82.4 L293.9,83.0 L293.9,83.6 L293.9,84.2 L293.9,84.8 L294.0,85.4 L294.0,86.0 L294.0,86.6 L294.0,87.2 L294.1,87.8 L294.1,88.4 L294.1,88.9 L294.1,89.5 L294.2,90.1 L294.2,90.7 L294.2,91.3 L294.2,91.9 L294.3,92.5 L294.3,93.1 L294.3,93.7 L294.4,94.3 L294.4,94.9 L294.4,95.5 L294.5,96.1 L294.5,96.7 L294.5,97.3 L294.6,97.9 L294.6,98.5 L294.6,99.1 L294.6,99.7 L294.7,100.3 L294.7,100.9 L294.7,101.5 L294.8,102.1 L294.8,102.7 L294.8,103.3 L294.9,103.9 L294.9,104.5 L294.9,105.1 L295.0,105.7 L295.0,106.3 L295.0,106.9 L295.1,107.5 L295.1,108.1 L295.1,108.7 L295.2,109.3 L295.2,109.9 L295.2,110.5 L295.3,111.1 L295.3,111.7 L295.3,112.3 L295.4,112.9 L295.4,113.5 L295.4,114.1 L295.5,114.7 L295.5,115.3 L295.5,115.9 L295.6,116.5 L295.6,117.1 L295.6,117.7 L295.7,118.3 L295.7,118.9 L295.7,119.5 L295.8,120.1 L295.8,120.7 L295.8,121.3 L295.9,121.9 L295.9,122.5 L295.9,123.1 L296.0,123.7 L296.0,124.3 L296.1,124.9 L296.1,125.5 L296.1,126.1 L296.2,126.7 L296.2,127.3 L296.2,127.9 L296.3,128.5 L296.3,129.1 L296.3,129.7 L296.4,130.3 L296.4,130.9 L296.4,131.5 L296.5,132.1 L296.5,132.7 L296.5,133.3 L296.6,133.9 L296.6,134.5 L296.6,135.1 L296.7,135.7 L296.7,136.3 L296.7,136.9 L296.8,137.5 L296.8,138.1 L296.8,138.7 L296.9,139.3 L296.9,139.9 L296.9,140.5 L297.0,141.1 L297.0,141.7 L297.0,142.3 L297.1,142.9 L297.1,143.5 L297.1,144.1 L297.2,144.7 L297.2,145.3 L297.2,145.9 L297.3,146.5 L297.3,147.1 L297.4,147.7 L297.4,148.3 L297.4,148.9 L297.5,149.5 L297.5,150.1 L297.5,150.7 L297.6,151.3 L297.6,151.9 L297.6,152.5 L297.7,153.1 L297.7,153.7 L297.8,154.2 L297.8,154.8 L297.8,155.4 L297.9,156.0 L297.9,156.6 L297.9,157.2 L298.0,157.8 L298.0,158.4 L298.1,159.0 L298.1,159.6 L298.2,160.2 L298.2,160.8 L298.3,161.4 L298.3,162.0 L298.4,162.6 L298.4,163.2 L298.5,163.8 L298.6,164.4 L298.6,165.0 L298.7,165.6 L298.8,166.2 L298.8,166.8 L298.9,167.4 L299.0,168.0 L299.1,168.6 L299.2,169.2 L299.3,169.8 L299.4,170.4 L299.4,171.0 L299.5,171.6 L299.6,172.2 L299.7,172.7 L299.8,173.3 L299.9,173.9 L300.0,174.5 L300.1,175.1 L300.2,175.7 L300.3,176.3 L300.5,176.9 L300.6,177.5 L300.8,178.0 L301.0,178.6 L301.2,179.2 L301.4,179.8 L301.7,180.3 L302.0,180.8 L302.5,181.2 L302.9,181.5 L303.4,181.6 L303.8,181.3 L304.2,180.9 L304.5,180.4 L304.8,179.8 L305.0,179.2 L305.2,178.7 L305.3,178.1 L305.5,177.5 L305.6,176.9 L305.8,176.3 L306.0,175.7 L306.1,175.2 L306.3,174.6 L306.5,174.0 L306.6,173.4 L306.8,172.8 L306.9,172.3 L307.1,171.7 L307.2,171.1 L307.3,170.5 L307.4,169.9 L307.5,169.3 L307.6,168.7 L307.7,168.2 L307.8,167.6 L307.9,167.0 L307.9,166.4 L308.0,165.8 L308.1,165.2 L308.1,164.6 L308.2,164.0 L308.3,163.4 L308.3,162.8 L308.4,162.2 L308.5,161.6 L308.6,161.0 L308.6,160.4 L308.7,159.8 L308.8,159.2 L308.9,158.6 L309.0,158.0 L309.1,157.4 L309.2,156.8 L309.3,156.2 L309.4,155.7 L309.5,155.1 L309.5,154.5 L309.6,153.9 L309.7,153.3 L309.8,152.7 L309.9,152.1 L310.0,151.5 L310.1,150.9 L310.3,150.3 L310.4,149.7 L310.5,149.1 L310.6,148.6 L310.7,148.0 L310.8,147.4 L310.9,146.8 L311.0,146.2 L311.1,145.6 L311.2,145.0 L311.3,144.4 L311.4,143.8 L311.6,143.2 L311.8,142.6 L312.0,142.0 L312.2,141.4 L312.5,140.9 L312.8,140.6 L313.1,140.7 L313.4,141.1 L313.7,141.7 L313.9,142.3 L314.1,142.9 L314.2,143.5 L314.4,144.1 L314.5,144.7 L314.5,145.3 L314.6,145.9 L314.7,146.5 L314.8,147.1 L314.9,147.7 L315.0,148.3 L315.1,148.9 L315.2,149.5 L315.3,150.1 L315.4,150.7 L315.5,151.2 L315.6,151.8 L315.8,152.4 L315.9,153.0 L316.0,153.6 L316.1,154.2 L316.2,154.8 L316.3,155.4 L316.4,156.0 L316.5,156.5 L316.7,157.1 L316.8,157.7 L316.9,158.3 L317.0,158.9 L317.1,159.5 L317.2,160.1 L317.3,160.7 L317.4,161.3 L317.5,161.9 L317.6,162.4 L317.7,163.0 L317.9,163.6 L318.0,164.2 L318.1,164.8 L318.2,165.4 L318.3,166.0 L318.4,166.6 L318.5,167.2 L318.6,167.8 L318.8,168.3 L318.9,168.9 L319.0,169.5 L319.1,170.1 L319.2,170.7 L319.4,171.3 L319.5,171.9 L319.6,172.5 L319.7,173.1 L319.8,173.6 L320.0,174.2 L320.1,174.8 L320.2,175.4 L320.4,176.0 L320.5,176.6 L320.6,177.2 L320.8,177.7 L321.0,178.3 L321.2,178.9 L321.4,179.4 L321.6,180.0 L321.8,180.6 L322.1,181.2 L322.4,181.7 L322.7,182.2 L323.0,182.7 L323.3,183.2 L323.7,183.6 L324.1,184.0 L324.5,184.4 L325.0,184.8 L325.6,185.1 L326.1,185.4 L326.6,185.7 L327.2,185.9 L327.8,186.1 L328.3,186.2 L328.9,186.4 L329.5,186.5 L330.1,186.7 L330.7,186.8 L331.3,186.8 L331.9,186.9 L332.5,186.9 L333.1,187.0 L333.7,187.0 L334.3,187.1 L334.9,187.1 L335.5,187.1 L336.1,187.2 L336.7,187.2 L337.3,187.2 L337.9,187.3 L338.5,187.3 L339.1,187.3 L339.7,187.3 L340.3,187.3 L340.9,187.3 L341.5,187.3 L342.1,187.3 L342.7,187.3 L343.3,187.3 L343.9,187.3 L344.5,187.3 L345.1,187.3 L345.7,187.4 L346.3,187.4 L346.9,187.4 L347.5,187.4 L348.1,187.4 L348.7,187.4 L349.3,187.4 L349.9,187.4 L350.5,187.4 L351.1,187.4 L351.7,187.4 L352.3,187.4 L352.9,187.4 L353.5,187.4 L354.1,187.4 L354.7,187.4 L355.3,187.4 L355.9,187.4 L356.5,187.4 L357.0,187.4 L357.4,187.4" class="g"/>
<path d="M223.8,187.4 L224.3,187.4 L224.8,187.4 L225.4,187.4 L226.0,187.4 L226.6,187.4 L227.2,187.4 L227.8,187.4 L228.4,187.4 L229.0,187.4 L229.6,187.3 L230.2,187.3 L230.8,187.3 L231.4,187.3 L232.0,187.3 L232.6,187.3 L233.2,187.2 L233.8,187.2 L234.4,187.1 L235.0,187.1 L235.6,187.0 L236.2,186.9 L236.8,186.8 L237.4,186.7 L237.9,186.6 L238.5,186.4 L239.1,186.2 L239.7,186.0 L240.2,185.8 L240.8,185.6 L241.3,185.3 L241.9,185.0 L242.4,184.8 L243.0,184.5 L243.5,184.2 L244.0,183.9 L244.5,183.6 L245.0,183.3 L245.5,183.0 L246.0,182.6 L246.5,182.3 L247.0,181.9 L247.5,181.5 L247.9,181.1 L248.4,180.8 L248.8,180.4 L249.3,180.0 L249.7,179.5 L250.1,179.1 L250.5,178.7 L250.9,178.2 L251.3,177.8 L251.8,177.3 L252.2,176.9 L252.6,176.5 L253.1,176.1 L253.5,175.7 L254.0,175.3 L254.4,174.9 L254.9,174.5 L255.4,174.1 L255.9,173.8 L256.4,173.5 L256.9,173.3 L257.5,173.1 L258.1,172.9 L258.7,172.7 L259.2,172.4 L259.7,172.2 L260.2,171.8 L260.6,171.5 L261.0,171.0 L261.3,170.5 L261.7,170.0 L262.0,169.4 L262.3,168.9 L262.5,168.4 L262.8,167.8 L263.0,167.3 L263.2,166.7 L263.4,166.2 L263.6,165.6 L263.8,165.0 L263.9,164.4 L264.1,163.8 L264.3,163.3 L264.4,162.7 L264.6,162.1 L264.8,161.5 L265.0,160.9 L265.1,160.4 L265.3,159.8 L265.5,159.2 L265.6,158.6 L265.8,158.0 L266.0,157.4 L266.2,156.8 L266.4,156.3 L266.6,155.8 L267.0,155.3 L267.4,154.8 L267.8,154.4 L268.3,154.2 L268.7,154.2 L269.2,154.5 L269.7,154.9 L270.0,155.5 L270.4,156.0 L270.6,156.5 L270.8,157.1 L271.0,157.6 L271.2,158.2 L271.3,158.8 L271.4,159.4 L271.6,160.0 L271.7,160.6 L271.8,161.2 L271.9,161.8 L272.0,162.4 L272.1,163.0 L272.3,163.6 L272.4,164.2 L272.6,164.8 L272.7,165.3 L272.8,165.9 L273.0,166.5 L273.1,167.1 L273.3,167.7 L273.4,168.3 L273.6,168.8 L273.7,169.4 L273.9,170.0 L274.1,170.6 L274.2,171.2 L274.4,171.7 L274.5,172.3 L274.7,172.9 L274.9,173.5 L275.1,174.1 L275.2,174.7 L275.4,175.3 L275.7,175.8 L275.9,176.3 L276.2,176.8 L276.6,177.4 L277.0,177.9 L277.4,178.3 L277.9,178.7 L278.3,178.8 L278.8,178.6 L279.2,178.3 L279.7,177.8 L280.1,177.3 L280.4,176.7 L280.6,176.2 L280.8,175.7 L281.0,175.1 L281.2,174.6 L281.3,174.0 L281.5,173.4 L281.6,172.8 L281.7,172.2 L281.8,171.6 L281.9,171.0 L282.0,170.3 L282.1,169.7 L282.2,169.1 L282.3,168.5 L282.4,167.9 L282.5,167.4 L282.6,166.8 L282.6,166.2 L282.7,165.6 L282.8,165.0 L282.9,164.4 L282.9,163.8 L283.0,163.2 L283.0,162.6 L283.1,162.0 L283.2,161.4 L283.2,160.8 L283.3,160.2 L283.3,159.6 L283.4,159.0 L283.4,158.4 L283.5,157.8 L283.5,157.2 L283.6,156.6 L283.6,156.0 L283.7,155.4 L283.7,154.8 L283.7,154.2 L283.8,153.6 L283.8,153.0 L283.9,152.4 L283.9,151.8 L283.9,151.2 L284.0,150.6 L284.0,150.0 L284.0,149.4 L284.1,148.8 L284.1,148.2 L284.1,147.6 L284.2,147.0 L284.2,146.4 L284.2,145.8 L284.3,145.2 L284.3,144.6 L284.3,144.0 L284.3,143.4 L284.4,142.8 L284.4,142.2 L284.4,141.6 L284.5,141.0 L284.5,140.4 L284.5,139.8 L284.5,139.2 L284.6,138.6 L284.6,138.0 L284.6,137.4 L284.6,136.8 L284.7,136.2 L284.7,135.6 L284.7,135.0 L284.7,134.4 L284.8,133.8 L284.8,133.2 L284.8,132.6 L284.8,132.0 L284.9,131.4 L284.9,130.8 L284.9,130.2 L284.9,129.6 L285.0,129.0 L285.0,128.4 L285.0,127.8 L285.1,127.2 L285.1,126.6 L285.1,126.0 L285.1,125.4 L285.2,124.8 L285.2,124.2 L285.2,123.6 L285.2,123.0 L285.3,122.4 L285.3,121.8 L285.3,121.2 L285.4,120.6 L285.4,120.0 L285.4,119.4 L285.5,118.8 L285.5,118.2 L285.5,117.6 L285.5,117.1 L285.6,116.5 L285.6,115.9 L285.6,115.3 L285.7,114.7 L285.7,114.1 L285.7,113.5 L285.8,112.9 L285.8,112.3 L285.8,111.7 L285.8,111.1 L285.9,110.5 L285.9,109.9 L285.9,109.3 L286.0,108.7 L286.0,108.1 L286.0,107.5 L286.1,106.9 L286.1,106.3 L286.1,105.7 L286.1,105.1 L286.2,104.5 L286.2,103.9 L286.2,103.3 L286.3,102.7 L286.3,102.1 L286.3,101.5 L286.3,100.9 L286.4,100.3 L286.4,99.7 L286.4,99.1 L286.5,98.5 L286.5,97.9 L286.5,97.3 L286.5,96.7 L286.6,96.1 L286.6,95.5 L286.6,94.9 L286.6,94.3 L286.7,93.7 L286.7,93.1 L286.7,92.5 L286.7,91.9 L286.8,91.3 L286.8,90.7 L286.8,90.1 L286.8,89.5 L286.9,88.9 L286.9,88.3 L286.9,87.7 L286.9,87.1 L286.9,86.5 L287.0,85.9 L287.0,85.3 L287.0,84.7 L287.0,84.1 L287.0,83.5 L287.0,82.9 L287.1,82.3 L287.1,81.7 L287.1,81.1 L287.1,80.5 L287.1,79.9 L287.1,79.3 L287.2,78.7 L287.2,78.1 L287.2,77.5 L287.2,76.9 L287.2,76.3 L287.2,75.7 L287.3,75.1 L287.3,74.5 L287.3,73.9 L287.3,73.3 L287.3,72.7 L287.4,72.1 L287.4,71.5 L287.4,70.9 L287.4,70.3 L287.5,69.7 L287.5,69.1 L287.5,68.5 L287.5,67.9 L287.5,67.3 L287.6,66.7 L287.6,66.1 L287.6,65.5 L287.7,64.9 L287.7,64.3 L287.7,63.7 L287.7,63.1 L287.8,62.5 L287.8,61.9 L287.8,61.3 L287.9,60.7 L287.9,60.1 L288.0,59.5 L288.0,58.9 L288.1,58.3 L288.1,57.7 L288.2,57.1 L288.2,56.5 L288.3,55.9 L288.3,55.3 L288.4,54.7 L288.5,54.1 L288.5,53.5 L288.6,52.9 L288.7,52.3 L288.7,51.7 L288.8,51.1 L288.9,50.5 L289.0,49.9 L289.1,49.3 L289.2,48.7 L289.4,48.2 L289.6,47.6 L289.9,47.1 L290.3,46.8 L290.6,46.8 L291.0,47.2 L291.3,47.8 L291.5,48.4 L291.6,48.9 L291.7,49.5 L291.8,50.1 L291.9,50.7 L292.0,51.3 L292.1,51.9 L292.1,52.5 L292.2,53.1 L292.3,53.7 L292.3,54.3 L292.4,54.9 L292.4,55.5 L292.5,56.1 L292.5,56.7 L292.6,57.3 L292.6,57.9 L292.7,58.5 L292.7,59.1 L292.8,59.7 L292.8,60.3 L292.8,60.9 L292.9,61.5 L292.9,62.1 L292.9,62.7 L293.0,63.3 L293.0,63.9 L293.0,64.5 L293.1,65.1 L293.1,65.7 L293.1,66.3 L293.2,66.9 L293.2,67.5 L293.2,68.1 L293.3,68.7 L293.3,69.3 L293.3,69.9 L293.3,70.5 L293.4,71.1 L293.4,71.7 L293.4,72.3 L293.4,72.9 L293.5,73.5 L293.5,74.1 L293.5,74.7 L293.6,75.3 L293.6,75.9 L293.6,76.5 L293.6,77.1 L293.6,77.7 L293.7,78.3 L293.7,78.9 L293.7,79.5 L293.7,80.1 L293.8,80.7 L293.8,81.3 L293.8,81.9 L293.8,82.5 L293.9,83.1 L293.9,83.7 L293.9,84.3 L293.9,84.9 L294.0,85.5 L294.0,86.1 L294.0,86.7 L294.0,87.3 L294.1,87.9 L294.1,88.5 L294.1,89.1 L294.1,89.7 L294.2,90.3 L294.2,90.9 L294.2,91.5 L294.3,92.1 L294.3,92.7 L294.3,93.3 L294.3,93.9 L294.4,94.5 L294.4,95.1 L294.4,95.7 L294.5,96.3 L294.5,96.9 L294.5,97.5 L294.6,98.1 L294.6,98.7 L294.6,99.3 L294.7,99.9 L294.7,100.5 L294.7,101.1 L294.7,101.7 L294.8,102.3 L294.8,102.9 L294.8,103.5 L294.9,104.1 L294.9,104.7 L294.9,105.3 L295.0,105.9 L295.0,106.5 L295.0,107.1 L295.1,107.7 L295.1,108.3 L295.1,108.9 L295.2,109.5 L295.2,110.1 L295.2,110.6 L295.3,111.2 L295.3,111.8 L295.3,112.4 L295.4,113.0 L295.4,113.6 L295.4,114.2 L295.5,114.8 L295.5,115.4 L295.5,116.0 L295.6,116.6 L295.6,117.2 L295.7,117.8 L295.7,118.4 L295.7,119.0 L295.8,119.6 L295.8,120.2 L295.8,120.8 L295.9,121.4 L295.9,122.0 L295.9,122.6 L296.0,123.2 L296.0,123.8 L296.0,124.4 L296.1,125.0 L296.1,125.6 L296.1,126.2 L296.2,126.8 L296.2,127.4 L296.2,128.0 L296.3,128.6 L296.3,129.2 L296.3,129.8 L296.4,130.4 L296.4,131.0 L296.4,131.6 L296.5,132.2 L296.5,132.8 L296.5,133.4 L296.6,134.0 L296.6,134.6 L296.6,135.2 L296.7,135.8 L296.7,136.4 L296.7,137.0 L296.8,137.6 L296.8,138.2 L296.8,138.8 L296.9,139.4 L296.9,140.0 L296.9,140.6 L297.0,141.2 L297.0,141.8 L297.0,142.4 L297.1,143.0 L297.1,143.6 L297.1,144.2 L297.2,144.8 L297.2,145.4 L297.3,146.0 L297.3,146.6 L297.3,147.2 L297.4,147.8 L297.4,148.4 L297.4,149.0 L297.5,149.6 L297.5,150.2 L297.5,150.8 L297.6,151.4 L297.6,152.0 L297.7,152.6 L297.7,153.2 L297.7,153.8 L297.8,154.4 L297.8,155.0 L297.8,155.6 L297.9,156.2 L297.9,156.8 L297.9,157.4 L298.0,158.0 L298.0,158.6 L298.1,159.2 L298.1,159.8 L298.2,160.4 L298.2,161.0 L298.3,161.6 L298.3,162.2 L298.4,162.8 L298.4,163.4 L298.5,163.9 L298.6,164.5 L298.6,165.1 L298.7,165.7 L298.8,166.3 L298.9,166.9 L298.9,167.5 L299.0,168.1 L299.1,168.7 L299.2,169.3 L299.3,169.9 L299.4,170.5 L299.5,171.1 L299.5,171.7 L299.6,172.3 L299.7,172.9 L299.8,173.5 L299.9,174.1 L300.0,174.6 L300.1,175.2 L300.3,175.8 L300.4,176.4 L300.5,177.0 L300.6,177.6 L300.8,178.2 L300.9,178.8 L301.1,179.4 L301.3,179.9 L301.5,180.5 L301.8,181.0 L302.1,181.5 L302.5,182.0 L303.0,182.3 L303.4,182.4 L303.9,182.2 L304.3,181.8 L304.7,181.3 L305.1,180.8 L305.4,180.3 L305.6,179.8 L305.9,179.2 L306.1,178.7 L306.3,178.1 L306.5,177.5 L306.7,176.9 L306.9,176.3 L307.1,175.8 L307.3,175.2 L307.5,174.6 L307.7,174.1 L307.9,173.5 L308.1,172.9 L308.3,172.3 L308.5,171.8 L308.7,171.2 L308.9,170.6 L309.1,170.1 L309.3,169.5 L309.5,169.0 L309.8,168.4 L310.0,167.9 L310.3,167.3 L310.6,166.8 L310.9,166.3 L311.2,165.8 L311.6,165.3 L312.0,164.8 L312.4,164.5 L312.9,164.3 L313.4,164.3 L313.9,164.6 L314.4,165.0 L314.8,165.5 L315.1,166.0 L315.3,166.5 L315.5,167.0 L315.7,167.6 L315.9,168.2 L316.1,168.8 L316.2,169.4 L316.4,170.0 L316.5,170.6 L316.7,171.2 L316.9,171.8 L317.0,172.4 L317.2,172.9 L317.4,173.5 L317.5,174.1 L317.7,174.7 L317.9,175.3 L318.1,175.8 L318.2,176.4 L318.4,177.0 L318.6,177.5 L318.9,178.1 L319.1,178.6 L319.3,179.2 L319.6,179.8 L319.9,180.3 L320.1,180.9 L320.4,181.4 L320.7,181.9 L321.1,182.3 L321.4,182.8 L321.8,183.3 L322.3,183.7 L322.7,184.1 L323.2,184.5 L323.7,184.8 L324.2,185.1 L324.8,185.3 L325.3,185.5 L325.9,185.7 L326.5,185.9 L327.0,186.1 L327.6,186.2 L328.2,186.3 L328.8,186.4 L329.4,186.5 L330.0,186.6 L330.6,186.6 L331.2,186.7 L331.8,186.8 L332.4,186.8 L333.0,186.9 L333.6,186.9 L334.2,187.0 L334.8,187.0 L335.4,187.0 L336.0,187.1 L336.6,187.1 L337.2,187.1 L337.8,187.1 L338.4,187.1 L339.0,187.2 L339.6,187.2 L340.2,187.2 L340.8,187.2 L341.4,187.2 L342.0,187.2 L342.6,187.2 L343.2,187.2 L343.8,187.3 L344.4,187.3 L345.0,187.3 L345.6,187.3 L346.2,187.3 L346.8,187.3 L347.4,187.3 L348.0,187.3 L348.6,187.3 L349.2,187.3 L349.8,187.4 L350.4,187.4 L351.0,187.4 L351.6,187.4 L352.2,187.4 L352.8,187.4 L353.4,187.4 L354.0,187.4 L354.6,187.4 L355.2,187.4 L355.8,187.4 L356.4,187.4 L357.0,187.4 L357.4,187.4" class="k"/>
<path d="M415.4,187.5 L415.8,187.5 L416.3,187.5 L416.8,187.5 L417.4,187.6 L418.0,187.6 L418.6,187.6 L419.2,187.6 L419.8,187.6 L420.4,187.6 L421.0,187.6 L421.6,187.6 L422.2,187.6 L422.8,187.6 L423.4,187.6 L424.0,187.6 L424.6,187.7 L425.2,187.7 L425.8,187.7 L426.4,187.7 L427.0,187.7 L427.6,187.7 L428.2,187.7 L428.8,187.7 L429.4,187.7 L430.0,187.7 L430.6,187.7 L431.2,187.7 L431.8,187.7 L432.4,187.7 L433.0,187.7 L433.6,187.7 L434.2,187.7 L434.8,187.7 L435.4,187.7 L436.0,187.7 L436.6,187.7 L437.2,187.7 L437.8,187.7 L438.4,187.7 L439.0,187.7 L439.6,187.7 L440.2,187.7 L440.8,187.7 L441.4,187.7 L442.0,187.7 L442.6,187.7 L443.2,187.7 L443.8,187.7 L444.4,187.7 L445.0,187.6 L445.6,187.6 L446.2,187.6 L446.8,187.6 L447.4,187.6 L448.0,187.6 L448.6,187.6 L449.2,187.5 L449.8,187.5 L450.4,187.5 L451.0,187.5 L451.6,187.4 L452.2,187.4 L452.8,187.4 L453.4,187.4 L454.0,187.3 L454.6,187.3 L455.2,187.3 L455.8,187.3 L456.4,187.2 L457.0,187.2 L457.6,187.2 L458.2,187.1 L458.8,187.1 L459.4,187.0 L460.0,187.0 L460.6,186.9 L461.2,186.8 L461.8,186.8 L462.4,186.7 L463.0,186.6 L463.6,186.5 L464.1,186.4 L464.7,186.4 L465.3,186.3 L465.9,186.2 L466.5,186.1 L467.1,186.0 L467.7,185.9 L468.3,185.8 L468.9,185.7 L469.5,185.6 L470.1,185.5 L470.7,185.4 L471.3,185.4 L471.9,185.3 L472.5,185.2 L473.1,185.1 L473.7,185.0 L474.2,184.9 L474.8,184.8 L475.4,184.7 L476.0,184.6 L476.6,184.5 L477.2,184.4 L477.8,184.3 L478.4,184.1 L479.0,184.0 L479.5,183.9 L480.1,183.8 L480.7,183.6 L481.3,183.5 L481.9,183.3 L482.5,183.2 L483.1,183.0 L483.7,182.8 L484.3,182.6 L484.9,182.4 L485.4,182.3 L486.0,182.0 L486.6,181.8 L487.1,181.6 L487.7,181.4 L488.2,181.1 L488.7,180.8 L489.2,180.6 L489.7,180.3 L490.1,179.9 L490.6,179.6 L491.0,179.2 L491.5,178.8 L491.9,178.3 L492.3,177.9 L492.8,177.4 L493.2,176.9 L493.5,176.5 L493.9,176.0 L494.3,175.5 L494.6,175.0 L494.9,174.5 L495.3,174.0 L495.6,173.5 L495.8,173.0 L496.1,172.5 L496.4,172.0 L496.7,171.4 L496.9,170.9 L497.2,170.3 L497.5,169.8 L497.7,169.2 L497.9,168.7 L498.2,168.1 L498.4,167.5 L498.7,167.0 L498.9,166.4 L499.2,165.9 L499.4,165.3 L499.6,164.8 L499.9,164.2 L500.1,163.7 L500.4,163.1 L500.6,162.6 L500.9,162.0 L501.1,161.5 L501.3,160.9 L501.6,160.4 L501.8,159.8 L502.0,159.3 L502.3,158.7 L502.5,158.2 L502.7,157.6 L503.0,157.1 L503.2,156.5 L503.4,155.9 L503.7,155.4 L503.9,154.8 L504.1,154.3 L504.3,153.7 L504.6,153.2 L504.8,152.6 L505.0,152.1 L505.3,151.5 L505.5,151.0 L505.7,150.4 L506.0,149.8 L506.2,149.3 L506.4,148.7 L506.7,148.2 L506.9,147.6 L507.1,147.1 L507.4,146.5 L507.6,146.0 L507.8,145.4 L508.1,144.9 L508.3,144.3 L508.6,143.8 L508.8,143.2 L509.0,142.7 L509.3,142.1 L509.5,141.6 L509.7,141.0 L509.9,140.4 L510.2,139.9 L510.4,139.3 L510.6,138.8 L510.8,138.2 L511.0,137.6 L511.2,137.1 L511.4,136.5 L511.6,135.9 L511.8,135.4 L511.9,134.8 L512.1,134.2 L512.3,133.6 L512.4,133.1 L512.6,132.5 L512.7,131.9 L512.9,131.3 L513.1,130.8 L513.2,130.2 L513.4,129.6 L513.6,129.0 L513.8,128.5 L514.0,127.9 L514.1,127.3 L514.3,126.7 L514.5,126.2 L514.7,125.6 L514.9,125.0 L515.1,124.5 L515.3,123.9 L515.5,123.3 L515.7,122.8 L515.9,122.2 L516.1,121.6 L516.3,121.1 L516.5,120.5 L516.7,119.9 L516.9,119.4 L517.1,118.8 L517.3,118.2 L517.5,117.7 L517.6,117.1 L517.8,116.5 L518.0,116.0 L518.2,115.4 L518.3,114.8 L518.5,114.2 L518.7,113.7 L518.8,113.1 L519.0,112.5 L519.2,111.9 L519.3,111.3 L519.5,110.8 L519.6,110.2 L519.8,109.6 L519.9,109.0 L520.1,108.4 L520.2,107.9 L520.4,107.3 L520.5,106.7 L520.7,106.1 L520.8,105.5 L520.9,104.9 L521.1,104.4 L521.2,103.8 L521.3,103.2 L521.5,102.6 L521.6,102.0 L521.7,101.4 L521.9,100.8 L522.0,100.3 L522.1,99.7 L522.3,99.1 L522.4,98.5 L522.5,97.9 L522.6,97.3 L522.8,96.7 L522.9,96.2 L523.0,95.6 L523.1,95.0 L523.2,94.4 L523.4,93.8 L523.5,93.2 L523.6,92.6 L523.7,92.0 L523.8,91.4 L523.9,90.9 L524.1,90.3 L524.2,89.7 L524.3,89.1 L524.4,88.5 L524.5,87.9 L524.6,87.3 L524.7,86.7 L524.8,86.1 L524.9,85.5 L525.0,85.0 L525.1,84.4 L525.2,83.8 L525.3,83.2 L525.4,82.6 L525.5,82.0 L525.6,81.4 L525.7,80.8 L525.8,80.2 L525.9,79.6 L526.0,79.0 L526.1,78.4 L526.2,77.8 L526.3,77.3 L526.4,76.7 L526.5,76.1 L526.6,75.5 L526.7,74.9 L526.8,74.3 L526.9,73.7 L527.0,73.1 L527.1,72.5 L527.2,71.9 L527.3,71.3 L527.4,70.8 L527.6,70.2 L527.7,69.6 L527.8,69.0 L527.9,68.4 L528.0,67.8 L528.1,67.2 L528.3,66.6 L528.4,66.0 L528.5,65.5 L528.6,64.9 L528.7,64.3 L528.9,63.7 L529.0,63.1 L529.1,62.5 L529.2,61.9 L529.4,61.4 L529.5,60.8 L529.6,60.2 L529.8,59.6 L529.9,59.0 L530.0,58.4 L530.2,57.8 L530.3,57.2 L530.4,56.7 L530.5,56.1 L530.7,55.5 L530.8,54.9 L531.0,54.3 L531.1,53.7 L531.3,53.1 L531.4,52.6 L531.6,52.0 L531.7,51.4 L531.9,50.8 L532.1,50.3 L532.3,49.7 L532.5,49.0 L532.7,48.4 L533.0,47.7 L533.2,47.0 L533.5,46.3 L533.8,45.7 L534.0,45.1 L534.3,44.6 L534.6,44.3 L534.9,44.0 L535.2,43.9 L535.4,44.0 L535.7,44.3 L536.0,44.7 L536.3,45.2 L536.6,45.8 L536.9,46.4 L537.1,47.1 L537.4,47.7 L537.6,48.4 L537.8,49.0 L537.9,49.6 L538.1,50.1 L538.2,50.7 L538.3,51.3 L538.5,51.9 L538.6,52.5 L538.7,53.0 L538.8,53.6 L538.9,54.2 L539.0,54.8 L539.1,55.4 L539.2,56.0 L539.3,56.6 L539.4,57.2 L539.5,57.8 L539.6,58.4 L539.7,59.0 L539.7,59.6 L539.8,60.2 L539.9,60.8 L540.0,61.4 L540.1,62.0 L540.1,62.6 L540.2,63.2 L540.3,63.8 L540.4,64.4 L540.4,65.0 L540.5,65.6 L540.6,66.2 L540.7,66.8 L540.7,67.4 L540.8,68.0 L540.9,68.6 L540.9,69.2 L541.0,69.8 L541.1,70.4 L541.1,70.9 L541.2,71.5 L541.3,72.1 L541.3,72.7 L541.4,73.3 L541.4,73.9 L541.5,74.5 L541.6,75.1 L541.6,75.7 L541.7,76.3 L541.7,76.9 L541.8,77.5 L541.9,78.1 L541.9,78.7 L542.0,79.3 L542.0,79.9 L542.1,80.5 L542.2,81.1 L542.2,81.7 L542.3,82.3 L542.3,82.9 L542.4,83.5 L542.5,84.1 L542.5,84.7 L542.6,85.3 L542.6,85.9 L542.7,86.5 L542.7,87.1 L542.8,87.7 L542.8,88.3 L542.9,88.9 L543.0,89.5 L543.0,90.1 L543.1,90.7 L543.1,91.3 L543.2,91.9 L543.2,92.5 L543.3,93.0 L543.3,93.6 L543.4,94.2 L543.4,94.8 L543.5,95.4 L543.5,96.0 L543.6,96.6 L543.7,97.2 L543.7,97.8 L543.8,98.4 L543.8,99.0 L543.9,99.6 L543.9,100.2 L544.0,100.8 L544.1,101.4 L544.1,102.0 L544.2,102.6 L544.2,103.2 L544.3,103.8 L544.3,104.4 L544.4,105.0 L544.5,105.6 L544.5,106.2 L544.6,106.8 L544.6,107.4 L544.7,108.0 L544.8,108.6 L544.8,109.2 L544.9,109.8 L544.9,110.4 L545.0,111.0 L545.1,111.6 L545.1,112.2 L545.2,112.8 L545.2,113.4 L545.3,114.0 L545.4,114.5 L545.4,115.1 L545.5,115.7 L545.6,116.3 L545.6,116.9 L545.7,117.5 L545.8,118.1 L545.8,118.7 L545.9,119.3 L546.0,119.9 L546.0,120.5 L546.1,121.1 L546.2,121.7 L546.3,122.3 L546.3,122.9 L546.4,123.5 L546.5,124.1 L546.5,124.7 L546.6,125.3 L546.7,125.9 L546.8,126.5 L546.8,127.1 L546.9,127.7 L547.0,128.3 L547.1,128.9 L547.2,129.4 L547.3,130.0 L547.4,130.6 L547.5,131.2 L547.6,131.8 L547.7,132.4 L547.9,133.0 L548.0,133.6 L548.1,134.1 L548.3,134.7 L548.5,135.3 L548.6,135.8 L548.8,136.4 L548.9,136.8" class="g"/>
<path d="M415.4,186.7 L415.8,186.7 L416.2,186.6 L416.8,186.5 L417.4,186.4 L418.0,186.4 L418.6,186.3 L419.2,186.2 L419.7,186.1 L420.3,186.0 L420.9,185.9 L421.5,185.8 L422.1,185.7 L422.7,185.6 L423.3,185.5 L423.9,185.4 L424.5,185.3 L425.1,185.2 L425.7,185.1 L426.3,185.0 L426.8,184.9 L427.4,184.8 L428.0,184.7 L428.6,184.6 L429.2,184.5 L429.8,184.3 L430.4,184.2 L431.0,184.1 L431.6,184.0 L432.2,183.9 L432.8,183.8 L433.3,183.7 L433.9,183.6 L434.5,183.4 L435.1,183.3 L435.7,183.2 L436.3,183.1 L436.9,183.0 L437.5,182.8 L438.0,182.7 L438.6,182.6 L439.2,182.4 L439.8,182.3 L440.4,182.2 L441.0,182.0 L441.5,181.9 L442.1,181.7 L442.7,181.6 L443.3,181.4 L443.9,181.3 L444.5,181.1 L445.1,181.0 L445.6,180.8 L446.2,180.7 L446.8,180.5 L447.4,180.3 L448.0,180.2 L448.5,180.0 L449.1,179.8 L449.7,179.7 L450.3,179.5 L450.8,179.3 L451.4,179.1 L452.0,178.9 L452.5,178.7 L453.1,178.5 L453.6,178.3 L454.2,178.1 L454.7,177.9 L455.3,177.6 L455.8,177.4 L456.4,177.2 L456.9,176.9 L457.5,176.6 L458.0,176.4 L458.5,176.1 L459.1,175.8 L459.6,175.5 L460.1,175.2 L460.7,174.9 L461.2,174.6 L461.7,174.3 L462.2,174.0 L462.7,173.6 L463.2,173.3 L463.7,173.0 L464.2,172.7 L464.7,172.3 L465.2,172.0 L465.7,171.6 L466.1,171.3 L466.6,170.9 L467.1,170.5 L467.5,170.2 L468.0,169.8 L468.5,169.4 L468.9,169.0 L469.4,168.6 L469.8,168.2 L470.3,167.8 L470.7,167.4 L471.2,167.0 L471.6,166.6 L472.0,166.1 L472.5,165.7 L472.9,165.3 L473.4,164.9 L473.8,164.5 L474.2,164.1 L474.7,163.6 L475.1,163.2 L475.5,162.8 L475.9,162.4 L476.4,162.0 L476.8,161.6 L477.2,161.1 L477.7,160.7 L478.1,160.3 L478.5,159.8 L478.9,159.4 L479.3,159.0 L479.8,158.5 L480.2,158.1 L480.6,157.7 L481.0,157.2 L481.4,156.8 L481.8,156.3 L482.2,155.9 L482.6,155.4 L483.0,155.0 L483.3,154.5 L483.7,154.0 L484.1,153.6 L484.5,153.1 L484.8,152.6 L485.2,152.2 L485.5,151.7 L485.9,151.2 L486.2,150.7 L486.6,150.2 L486.9,149.7 L487.2,149.2 L487.6,148.7 L487.9,148.2 L488.2,147.7 L488.6,147.2 L488.9,146.7 L489.2,146.2 L489.6,145.7 L489.9,145.2 L490.2,144.7 L490.6,144.2 L490.9,143.7 L491.2,143.2 L491.5,142.7 L491.9,142.2 L492.2,141.7 L492.5,141.2 L492.8,140.7 L493.1,140.1 L493.5,139.6 L493.8,139.1 L494.1,138.6 L494.4,138.1 L494.7,137.6 L495.1,137.1 L495.4,136.6 L495.7,136.1 L496.0,135.6 L496.4,135.1 L496.7,134.6 L497.0,134.1 L497.3,133.6 L497.7,133.1 L498.0,132.6 L498.3,132.1 L498.6,131.6 L499.0,131.0 L499.3,130.5 L499.6,130.0 L499.9,129.5 L500.2,129.0 L500.5,128.5 L500.8,128.0 L501.1,127.4 L501.4,126.9 L501.7,126.4 L502.0,125.9 L502.3,125.4 L502.6,124.8 L502.9,124.3 L503.2,123.8 L503.5,123.3 L503.8,122.8 L504.1,122.3 L504.4,121.7 L504.7,121.2 L505.0,120.7 L505.3,120.2 L505.6,119.6 L505.9,119.1 L506.2,118.6 L506.6,118.1 L506.9,117.6 L507.2,117.1 L507.5,116.6 L507.9,116.1 L508.2,115.6 L508.6,115.1 L508.9,114.6 L509.3,114.2 L509.7,113.7 L510.1,113.3 L510.5,112.8 L510.9,112.4 L511.3,112.0 L511.8,111.5 L512.2,111.1 L512.7,110.7 L513.2,110.4 L513.6,110.0 L514.1,109.6 L514.6,109.3 L515.1,109.0 L515.7,108.7 L516.2,108.5 L516.7,108.3 L517.3,108.1 L517.9,108.0 L518.5,107.9 L519.1,107.8 L519.7,107.8 L520.3,107.8 L520.9,107.9 L521.5,108.0 L522.0,108.2 L522.6,108.4 L523.1,108.6 L523.6,108.9 L524.1,109.2 L524.6,109.6 L525.1,110.0 L525.5,110.4 L526.0,110.8 L526.4,111.2 L526.8,111.7 L527.2,112.1 L527.6,112.6 L528.0,113.0 L528.4,113.5 L528.7,114.0 L529.1,114.5 L529.4,115.0 L529.8,115.5 L530.1,116.0 L530.4,116.5 L530.7,117.0 L531.0,117.5 L531.3,118.0 L531.6,118.6 L531.9,119.1 L532.2,119.6 L532.4,120.2 L532.7,120.7 L533.0,121.2 L533.2,121.8 L533.5,122.3 L533.8,122.9 L534.0,123.4 L534.3,123.9 L534.6,124.5 L534.8,125.0 L535.1,125.6 L535.3,126.1 L535.5,126.7 L535.7,127.3 L535.9,127.8 L536.1,128.4 L536.3,128.9 L536.5,129.5 L536.6,130.1 L536.8,130.7 L536.9,131.3 L537.1,131.8 L537.2,132.4 L537.4,133.0 L537.5,133.6 L537.6,134.2 L537.7,134.8 L537.9,135.4 L538.0,136.0 L538.1,136.5 L538.2,137.1 L538.3,137.7 L538.4,138.3 L538.5,138.9 L538.6,139.5 L538.7,140.1 L538.8,140.7 L538.9,141.3 L539.0,141.9 L539.1,142.5 L539.1,143.1 L539.2,143.7 L539.3,144.2 L539.4,144.8 L539.5,145.4 L539.6,146.0 L539.7,146.6 L539.8,147.2 L540.0,147.8 L540.1,148.4 L540.2,149.0 L540.3,149.6 L540.4,150.1 L540.5,150.7 L540.6,151.3 L540.8,151.9 L540.9,152.5 L541.0,153.1 L541.1,153.7 L541.2,154.3 L541.4,154.9 L541.5,155.4 L541.6,156.0 L541.7,156.6 L541.9,157.2 L542.0,157.8 L542.1,158.4 L542.2,159.0 L542.4,159.5 L542.5,160.1 L542.6,160.7 L542.8,161.3 L542.9,161.9 L543.1,162.5 L543.2,163.1 L543.3,163.6 L543.5,164.2 L543.6,164.8 L543.8,165.4 L543.9,166.0 L544.0,166.6 L544.2,167.2 L544.3,167.8 L544.5,168.4 L544.6,169.0 L544.8,169.6 L544.9,170.2 L545.1,170.7 L545.2,171.3 L545.4,171.9 L545.6,172.5 L545.8,173.0 L546.0,173.6 L546.2,174.1 L546.5,174.6 L546.7,175.1 L547.0,175.6 L547.3,176.1 L547.7,176.6 L548.1,177.0 L548.4,177.5 L548.7,177.8 L549.0,178.1" class="k"/>
<path d="M606.7,174.3 L606.8,174.0 L607.1,173.6 L607.3,173.1 L607.6,172.6 L607.9,172.0 L608.2,171.5 L608.6,171.0 L608.9,170.6 L609.3,170.1 L609.7,169.6 L610.1,169.2 L610.5,168.7 L610.9,168.3 L611.2,167.8 L611.6,167.3 L611.9,166.8 L612.2,166.3 L612.5,165.8 L612.8,165.3 L613.1,164.8 L613.4,164.2 L613.7,163.7 L614.0,163.2 L614.2,162.6 L614.5,162.1 L614.8,161.5 L615.0,161.0 L615.3,160.5 L615.6,159.9 L615.9,159.4 L616.2,158.9 L616.6,158.5 L616.9,158.0 L617.3,157.6 L617.8,157.1 L618.2,156.7 L618.6,156.3 L619.0,155.8 L619.5,155.4 L619.9,155.0 L620.3,154.5 L620.7,154.1 L621.0,153.6 L621.4,153.1 L621.8,152.6 L622.1,152.1 L622.4,151.6 L622.8,151.2 L623.1,150.7 L623.5,150.2 L623.8,149.7 L624.1,149.2 L624.5,148.7 L624.8,148.2 L625.1,147.6 L625.4,147.1 L625.7,146.6 L626.1,146.1 L626.4,145.6 L626.7,145.1 L627.0,144.6 L627.3,144.1 L627.7,143.6 L628.0,143.1 L628.3,142.6 L628.6,142.1 L629.0,141.6 L629.3,141.1 L629.6,140.6 L629.9,140.1 L630.3,139.6 L630.6,139.0 L630.9,138.5 L631.2,138.0 L631.6,137.5 L631.9,137.0 L632.2,136.5 L632.6,136.0 L632.9,135.6 L633.3,135.1 L633.8,134.7 L634.2,134.3 L634.7,133.9 L635.2,133.5 L635.7,133.2 L636.2,133.0 L636.7,132.7 L637.3,132.5 L637.9,132.4 L638.5,132.3 L639.1,132.2 L639.7,132.2 L640.2,132.3 L640.8,132.4 L641.4,132.6 L642.0,132.8 L642.5,133.0 L643.1,133.3 L643.6,133.6 L644.1,133.9 L644.6,134.2 L645.0,134.6 L645.5,135.0 L645.9,135.4 L646.4,135.9 L646.8,136.3 L647.2,136.7 L647.6,137.2 L648.0,137.6 L648.4,138.0 L648.8,138.5 L649.2,139.0 L649.6,139.4 L650.0,139.9 L650.3,140.4 L650.7,140.9 L651.1,141.3 L651.4,141.8 L651.8,142.3 L652.1,142.8 L652.4,143.3 L652.8,143.8 L653.1,144.3 L653.4,144.8 L653.7,145.3 L654.1,145.8 L654.4,146.3 L654.7,146.9 L655.0,147.4 L655.3,147.9 L655.6,148.4 L655.9,149.0 L656.1,149.5 L656.4,150.0 L656.7,150.6 L656.9,151.1 L657.2,151.6 L657.5,152.2 L657.7,152.7 L658.0,153.3 L658.2,153.8 L658.4,154.4 L658.7,154.9 L658.9,155.5 L659.1,156.0 L659.3,156.6 L659.6,157.2 L659.8,157.7 L660.0,158.3 L660.2,158.8 L660.4,159.4 L660.6,160.0 L660.8,160.5 L661.1,161.1 L661.3,161.6 L661.5,162.2 L661.7,162.8 L661.9,163.3 L662.2,163.9 L662.4,164.4 L662.6,165.0 L662.8,165.5 L663.1,166.1 L663.3,166.7 L663.5,167.2 L663.8,167.8 L664.0,168.3 L664.2,168.9 L664.4,169.4 L664.7,170.0 L664.9,170.5 L665.2,171.1 L665.4,171.6 L665.7,172.2 L666.0,172.7 L666.2,173.2 L666.5,173.7 L666.9,174.3 L667.2,174.8 L667.5,175.3 L667.9,175.8 L668.2,176.2 L668.6,176.7 L669.0,177.1 L669.4,177.6 L669.9,178.0 L670.3,178.4 L670.8,178.7 L671.3,179.1 L671.8,179.5 L672.3,179.8 L672.8,180.1 L673.3,180.3 L673.9,180.6 L674.4,180.8 L675.0,181.0 L675.5,181.2 L676.1,181.4 L676.7,181.6 L677.3,181.7 L677.9,181.9 L678.5,182.0 L679.0,182.1 L679.6,182.3 L680.2,182.4 L680.8,182.4 L681.4,182.5 L682.0,182.6 L682.6,182.7 L683.2,182.7 L683.8,182.8 L684.4,182.9 L685.0,182.9 L685.6,183.0 L686.2,183.1 L686.8,183.2 L687.4,183.3 L688.0,183.4 L688.5,183.5 L689.1,183.6 L689.7,183.7 L690.3,183.9 L690.9,184.0 L691.5,184.1 L692.1,184.2 L692.7,184.4 L693.2,184.5 L693.8,184.6 L694.4,184.8 L695.0,184.9 L695.6,185.1 L696.2,185.2 L696.7,185.4 L697.3,185.5 L697.9,185.6 L698.5,185.7 L699.1,185.8 L699.7,185.9 L700.3,186.0 L700.9,186.1 L701.5,186.2 L702.1,186.3 L702.7,186.3 L703.3,186.3 L703.9,186.4 L704.5,186.4 L705.1,186.4 L705.7,186.5 L706.3,186.5 L706.9,186.5 L707.5,186.5 L708.1,186.5 L708.7,186.6 L709.3,186.6 L709.9,186.6 L710.5,186.6 L711.1,186.7 L711.7,186.7 L712.3,186.7 L712.9,186.7 L713.5,186.8 L714.1,186.8 L714.7,186.8 L715.3,186.9 L715.9,186.9 L716.5,186.9 L717.0,187.0 L717.6,187.0 L718.2,187.1 L718.8,187.1 L719.4,187.2 L720.0,187.3 L720.6,187.3 L721.2,187.3 L721.8,187.4 L722.4,187.4 L723.0,187.4 L723.6,187.4 L724.2,187.4 L724.8,187.4 L725.4,187.3 L726.0,187.3 L726.6,187.3 L727.2,187.3 L727.9,187.2 L728.5,187.2 L729.1,187.1 L729.7,187.0 L730.2,186.8 L730.8,186.7 L731.3,186.4 L731.8,186.2 L732.2,185.8 L732.7,185.4 L733.1,185.0 L733.6,184.5 L733.9,184.0 L734.3,183.5 L734.7,183.0 L735.0,182.6 L735.3,182.0 L735.6,181.5 L735.9,181.0 L736.2,180.5 L736.5,179.9 L736.8,179.4 L737.0,178.9 L737.3,178.3 L737.6,177.8 L737.9,177.3 L738.2,176.7 L738.5,176.2 L738.8,175.7 L739.1,175.2 L739.5,174.7 L739.8,174.2 L740.1,173.7 L740.3,173.3 L740.6,173.0" class="g"/>
<path d="M606.9,185.8 L607.2,185.7 L607.7,185.5 L608.2,185.3 L608.8,185.1 L609.3,184.9 L609.9,184.7 L610.5,184.5 L611.0,184.3 L611.6,184.1 L612.2,183.9 L612.7,183.7 L613.3,183.5 L613.8,183.3 L614.4,183.1 L615.0,182.8 L615.5,182.6 L616.1,182.4 L616.6,182.2 L617.2,182.0 L617.8,181.7 L618.3,181.5 L618.9,181.3 L619.4,181.1 L620.0,180.9 L620.6,180.7 L621.2,180.5 L621.7,180.4 L622.3,180.2 L622.9,180.0 L623.4,179.7 L624.0,179.5 L624.5,179.3 L625.1,179.1 L625.6,178.8 L626.2,178.6 L626.7,178.3 L627.2,178.0 L627.8,177.8 L628.3,177.5 L628.9,177.2 L629.4,177.0 L629.9,176.7 L630.5,176.5 L631.0,176.2 L631.6,176.0 L632.1,175.7 L632.7,175.5 L633.3,175.3 L633.8,175.2 L634.4,175.0 L635.0,174.8 L635.6,174.7 L636.1,174.5 L636.7,174.4 L637.3,174.2 L637.9,174.1 L638.5,174.0 L639.1,173.8 L639.7,173.7 L640.2,173.5 L640.8,173.4 L641.4,173.3 L642.0,173.1 L642.6,173.0 L643.2,172.9 L643.7,172.7 L644.3,172.6 L644.9,172.5 L645.5,172.4 L646.1,172.2 L646.7,172.0 L647.2,171.8 L647.8,171.6 L648.3,171.4 L648.9,171.2 L649.5,171.0 L650.0,170.8 L650.6,170.5 L651.1,170.3 L651.7,170.1 L652.3,169.9 L652.9,169.7 L653.4,169.6 L654.0,169.4 L654.6,169.3 L655.2,169.2 L655.8,169.1 L656.4,169.0 L657.0,168.9 L657.6,168.9 L658.2,168.8 L658.8,168.8 L659.4,168.7 L660.0,168.7 L660.6,168.7 L661.2,168.7 L661.8,168.7 L662.4,168.8 L663.0,168.8 L663.6,168.8 L664.1,168.9 L664.7,168.9 L665.3,168.9 L665.9,169.0 L666.5,169.1 L667.1,169.1 L667.7,169.2 L668.3,169.3 L668.9,169.4 L669.5,169.4 L670.1,169.5 L670.7,169.6 L671.3,169.6 L671.9,169.6 L672.5,169.7 L673.1,169.7 L673.7,169.7 L674.3,169.8 L674.9,169.8 L675.5,169.8 L676.1,169.8 L676.7,169.7 L677.3,169.7 L677.9,169.6 L678.5,169.5 L679.1,169.4 L679.7,169.4 L680.3,169.3 L680.9,169.2 L681.5,169.1 L682.1,169.0 L682.7,168.9 L683.3,168.8 L683.8,168.8 L684.4,168.7 L685.0,168.7 L685.6,168.6 L686.2,168.6 L686.8,168.6 L687.4,168.7 L688.0,168.7 L688.6,168.8 L689.2,168.8 L689.8,168.9 L690.4,169.0 L691.0,169.1 L691.6,169.2 L692.2,169.3 L692.8,169.4 L693.4,169.5 L693.9,169.7 L694.5,169.9 L695.1,170.1 L695.6,170.3 L696.2,170.5 L696.8,170.7 L697.3,170.9 L697.9,171.1 L698.5,171.3 L699.0,171.5 L699.6,171.6 L700.2,171.8 L700.8,171.9 L701.4,172.1 L702.0,172.2 L702.5,172.3 L703.1,172.4 L703.7,172.6 L704.3,172.7 L704.9,172.8 L705.5,172.9 L706.1,173.0 L706.7,173.1 L707.3,173.2 L707.8,173.4 L708.4,173.5 L709.0,173.6 L709.6,173.7 L710.2,173.8 L710.8,173.9 L711.4,174.0 L712.0,174.0 L712.6,174.1 L713.2,174.2 L713.8,174.3 L714.4,174.4 L715.0,174.5 L715.5,174.6 L716.1,174.7 L716.7,174.8 L717.3,174.9 L717.9,175.0 L718.5,175.0 L719.1,175.1 L719.7,175.2 L720.3,175.3 L720.9,175.3 L721.5,175.4 L722.1,175.5 L722.7,175.5 L723.3,175.6 L723.9,175.6 L724.5,175.6 L725.1,175.6 L725.7,175.6 L726.3,175.6 L726.9,175.6 L727.5,175.5 L728.0,175.4 L728.6,175.1 L729.0,174.8 L729.5,174.4 L729.8,173.9 L730.1,173.4 L730.3,172.9 L730.5,172.3 L730.7,171.8 L730.9,171.1 L731.0,170.5 L731.1,169.9 L731.2,169.3 L731.4,168.7 L731.5,168.2 L731.6,167.6 L731.7,167.0 L731.7,166.4 L731.8,165.8 L731.9,165.2 L732.0,164.6 L732.1,164.0 L732.1,163.4 L732.2,162.8 L732.3,162.2 L732.4,161.6 L732.4,161.0 L732.5,160.4 L732.6,159.8 L732.7,159.2 L732.7,158.6 L732.8,158.0 L732.9,157.4 L732.9,156.8 L733.0,156.2 L733.1,155.6 L733.1,155.1 L733.2,154.5 L733.3,153.9 L733.3,153.3 L733.4,152.7 L733.5,152.1 L733.5,151.5 L733.6,150.9 L733.7,150.3 L733.7,149.7 L733.8,149.1 L733.9,148.5 L733.9,147.9 L734.0,147.3 L734.0,146.7 L734.1,146.1 L734.1,145.5 L734.2,144.9 L734.2,144.3 L734.3,143.7 L734.3,143.1 L734.4,142.5 L734.4,141.9 L734.5,141.3 L734.5,140.7 L734.6,140.1 L734.6,139.5 L734.7,138.9 L734.7,138.3 L734.8,137.7 L734.8,137.1 L734.8,136.5 L734.9,135.9 L734.9,135.3 L735.0,134.7 L735.0,134.1 L735.0,133.5 L735.1,132.9 L735.1,132.3 L735.1,131.7 L735.2,131.1 L735.2,130.5 L735.2,129.9 L735.3,129.3 L735.3,128.7 L735.3,128.1 L735.3,127.5 L735.4,126.9 L735.4,126.3 L735.4,125.8 L735.5,125.2 L735.5,124.6 L735.5,124.0 L735.5,123.4 L735.6,122.8 L735.6,122.2 L735.6,121.6 L735.6,121.0 L735.7,120.4 L735.7,119.8 L735.7,119.2 L735.7,118.6 L735.8,118.0 L735.8,117.4 L735.8,116.8 L735.9,116.2 L735.9,115.6 L735.9,115.0 L735.9,114.4 L736.0,113.8 L736.0,113.2 L736.0,112.6 L736.0,112.0 L736.1,111.4 L736.1,110.8 L736.1,110.2 L736.2,109.6 L736.2,109.0 L736.2,108.4 L736.2,107.8 L736.3,107.2 L736.3,106.6 L736.3,106.0 L736.4,105.4 L736.4,104.8 L736.4,104.2 L736.4,103.6 L736.5,103.0 L736.5,102.4 L736.5,101.8 L736.6,101.2 L736.6,100.6 L736.6,100.0 L736.6,99.4 L736.7,98.8 L736.7,98.2 L736.7,97.6 L736.8,97.0 L736.8,96.4 L736.8,95.8 L736.8,95.2 L736.9,94.6 L736.9,94.0 L736.9,93.4 L737.0,92.8 L737.0,92.2 L737.0,91.6 L737.1,91.0 L737.1,90.4 L737.1,89.8 L737.1,89.2 L737.2,88.6 L737.2,88.0 L737.2,87.4 L737.3,86.8 L737.3,86.2 L737.3,85.6 L737.4,85.0 L737.4,84.4 L737.4,83.8 L737.4,83.2 L737.5,82.6 L737.5,82.0 L737.5,81.4 L737.6,80.8 L737.6,80.2 L737.6,79.6 L737.6,79.0 L737.7,78.4 L737.7,77.8 L737.7,77.2 L737.7,76.6 L737.8,76.0 L737.8,75.4 L737.8,74.8 L737.8,74.2 L737.8,73.6 L737.9,73.0 L737.9,72.4 L737.9,71.8 L737.9,71.2 L737.9,70.6 L738.0,70.0 L738.0,69.4 L738.0,68.8 L738.0,68.2 L738.1,67.6 L738.1,67.0 L738.1,66.4 L738.2,65.8 L738.2,65.2 L738.2,64.6 L738.3,64.0 L738.3,63.4 L738.4,62.8 L738.4,62.2 L738.4,61.6 L738.5,61.0 L738.5,60.4 L738.6,59.8 L738.6,59.2 L738.7,58.6 L738.7,58.0 L738.8,57.4 L738.8,56.8 L738.9,56.2 L738.9,55.6 L739.0,55.0 L739.1,54.4 L739.1,53.8 L739.2,53.3 L739.2,52.7 L739.3,52.1 L739.4,51.5 L739.5,50.9 L739.5,50.3 L739.6,49.7 L739.7,49.1 L739.8,48.5 L739.9,47.9 L740.0,47.3 L740.1,46.7 L740.2,46.1 L740.3,45.5 L740.4,45.0 L740.5,44.4 L740.6,43.9 L740.7,43.5" class="k"/>
<rect x="25.45" y="35.5" width="147.30" height="159.50" fill="none" stroke="#222222" stroke-width="0.95"/>
<rect x="216.8" y="35.5" width="147.50" height="159.50" fill="none" stroke="#222222" stroke-width="0.95"/>
<rect x="408.35" y="35.5" width="147.65" height="159.50" fill="none" stroke="#222222" stroke-width="0.95"/>
<rect x="600.3" y="35.5" width="147.00" height="159.50" fill="none" stroke="#222222" stroke-width="0.95"/>
<line x1="566.2" x2="566.2" y1="0.25" y2="249" stroke="#808080" stroke-width="1.5" stroke-dasharray="5.0 2.39"/>
<rect x="31.9" y="223.8" width="145.2" height="24.0" rx="2.6" ry="2.6" fill="#ffffff" stroke="#d2d2d2" stroke-width="1"/>
<line x1="37.3" x2="52.0" y1="234.7" y2="234.7" stroke="#3cb371" stroke-width="1.75"/>
<line x1="102.3" x2="116.6" y1="234.7" y2="234.7" stroke="#000000" stroke-width="1.75"/>
<text class="ti"><tspan x="42.95" y="30.7" textLength="64.36" lengthAdjust="spacingAndGlyphs">Hydrogen</tspan> <tspan x="113.05" y="30.7" textLength="41.80" lengthAdjust="spacingAndGlyphs">Bonds</tspan></text>
<text class="ti"><tspan x="249.22" y="30.7" textLength="26.03" lengthAdjust="spacingAndGlyphs">Salt</tspan> <tspan x="281.75" y="30.7" textLength="49.90" lengthAdjust="spacingAndGlyphs">Bridges</tspan></text>
<text class="ti"><tspan x="410.05" y="30.7" textLength="79.15" lengthAdjust="spacingAndGlyphs">Hydophobic</tspan> <tspan x="494.80" y="30.7" textLength="59.95" lengthAdjust="spacingAndGlyphs">Contacts</tspan></text>
<text class="ti"><tspan x="607.74" y="13.1" textLength="66.16" lengthAdjust="spacingAndGlyphs">Maximum</tspan> <tspan x="680.55" y="13.1" textLength="59.64" lengthAdjust="spacingAndGlyphs">Common</tspan></text>
<text class="ti"><tspan x="631.40" y="30.7" textLength="85.15" lengthAdjust="spacingAndGlyphs">Substructure</tspan></text>
<text class="lb"><tspan x="213.10" y="223.9" textLength="97.75" lengthAdjust="spacingAndGlyphs">Pseudo-Tanimoto</tspan> <tspan x="316.06" y="223.9" textLength="51.99" lengthAdjust="spacingAndGlyphs">Similarity</tspan></text>
<text class="lb"><tspan x="247.31" y="244.0" textLength="28.34" lengthAdjust="spacingAndGlyphs">More</tspan> <tspan x="279.61" y="244.0" textLength="35.44" lengthAdjust="spacingAndGlyphs">similar</tspan> <tspan x="316.9" y="243.0" style="font-size:12.6px" textLength="21.4" lengthAdjust="spacingAndGlyphs">→</tspan></text>
<text class="lb"><tspan x="643.01" y="226.8" textLength="37.14" lengthAdjust="spacingAndGlyphs">RMSD</tspan> <tspan x="685.10" y="226.8" textLength="19.81" lengthAdjust="spacingAndGlyphs">(Å)</tspan></text>
<text class="lb"><tspan x="606.9" y="243.0" style="font-size:12.6px" textLength="21.4" lengthAdjust="spacingAndGlyphs">←</tspan> <tspan x="629.51" y="244.0" textLength="28.34" lengthAdjust="spacingAndGlyphs">More</tspan> <tspan x="662.02" y="244.0" textLength="35.93" lengthAdjust="spacingAndGlyphs">similar</tspan></text>
<text class="lb"><tspan x="57.81" y="239.1" textLength="32.84" lengthAdjust="spacingAndGlyphs">Native</tspan></text>
<text class="lb"><tspan x="122.90" y="239.1" textLength="48.65" lengthAdjust="spacingAndGlyphs">Reference</tspan></text>
<text class="lb" transform="translate(9.3,162.0) rotate(-90)"><tspan x="-0.79" y="0" textLength="53.44" lengthAdjust="spacingAndGlyphs">Probability</tspan> <tspan x="57.42" y="0" textLength="36.74" lengthAdjust="spacingAndGlyphs">Density</tspan></text>
</svg>
</body></html>
